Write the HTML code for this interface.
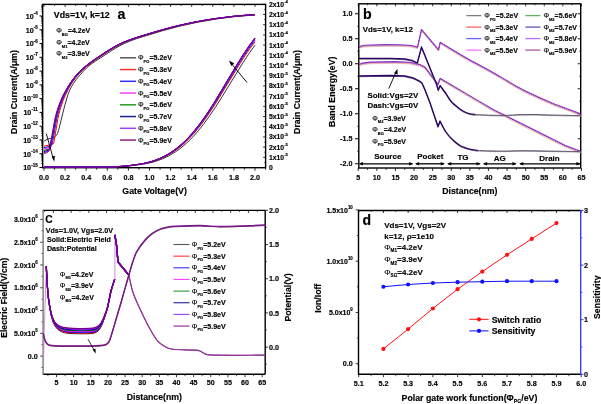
<!DOCTYPE html>
<html><head><meta charset="utf-8"><style>
html,body{margin:0;padding:0;background:#fff;}
svg{display:block;filter:blur(0.25px);}
text{font-family:"Liberation Sans",sans-serif;font-weight:bold;stroke:#000;stroke-width:0.15px;}
</style></head><body>
<svg width="601" height="404" viewBox="0 0 601 404">
<rect width="601" height="404" fill="#fff"/>
<line x1="44" y1="167.7" x2="44" y2="170.7" stroke="#000" stroke-width="0.8" />
<line x1="44" y1="4.4" x2="44" y2="6.9" stroke="#000" stroke-width="0.8" />
<text x="44" y="179.5" font-size="7.2" text-anchor="middle" fill="#000" >0.0</text>
<line x1="54.55" y1="167.7" x2="54.55" y2="169.7" stroke="#000" stroke-width="0.8" />
<line x1="54.55" y1="4.4" x2="54.55" y2="5.9" stroke="#000" stroke-width="0.8" />
<line x1="65.1" y1="167.7" x2="65.1" y2="170.7" stroke="#000" stroke-width="0.8" />
<line x1="65.1" y1="4.4" x2="65.1" y2="6.9" stroke="#000" stroke-width="0.8" />
<text x="65.1" y="179.5" font-size="7.2" text-anchor="middle" fill="#000" >0.2</text>
<line x1="75.65" y1="167.7" x2="75.65" y2="169.7" stroke="#000" stroke-width="0.8" />
<line x1="75.65" y1="4.4" x2="75.65" y2="5.9" stroke="#000" stroke-width="0.8" />
<line x1="86.2" y1="167.7" x2="86.2" y2="170.7" stroke="#000" stroke-width="0.8" />
<line x1="86.2" y1="4.4" x2="86.2" y2="6.9" stroke="#000" stroke-width="0.8" />
<text x="86.2" y="179.5" font-size="7.2" text-anchor="middle" fill="#000" >0.4</text>
<line x1="96.75" y1="167.7" x2="96.75" y2="169.7" stroke="#000" stroke-width="0.8" />
<line x1="96.75" y1="4.4" x2="96.75" y2="5.9" stroke="#000" stroke-width="0.8" />
<line x1="107.3" y1="167.7" x2="107.3" y2="170.7" stroke="#000" stroke-width="0.8" />
<line x1="107.3" y1="4.4" x2="107.3" y2="6.9" stroke="#000" stroke-width="0.8" />
<text x="107.3" y="179.5" font-size="7.2" text-anchor="middle" fill="#000" >0.6</text>
<line x1="117.85" y1="167.7" x2="117.85" y2="169.7" stroke="#000" stroke-width="0.8" />
<line x1="117.85" y1="4.4" x2="117.85" y2="5.9" stroke="#000" stroke-width="0.8" />
<line x1="128.4" y1="167.7" x2="128.4" y2="170.7" stroke="#000" stroke-width="0.8" />
<line x1="128.4" y1="4.4" x2="128.4" y2="6.9" stroke="#000" stroke-width="0.8" />
<text x="128.4" y="179.5" font-size="7.2" text-anchor="middle" fill="#000" >0.8</text>
<line x1="138.95" y1="167.7" x2="138.95" y2="169.7" stroke="#000" stroke-width="0.8" />
<line x1="138.95" y1="4.4" x2="138.95" y2="5.9" stroke="#000" stroke-width="0.8" />
<line x1="149.5" y1="167.7" x2="149.5" y2="170.7" stroke="#000" stroke-width="0.8" />
<line x1="149.5" y1="4.4" x2="149.5" y2="6.9" stroke="#000" stroke-width="0.8" />
<text x="149.5" y="179.5" font-size="7.2" text-anchor="middle" fill="#000" >1.0</text>
<line x1="160.05" y1="167.7" x2="160.05" y2="169.7" stroke="#000" stroke-width="0.8" />
<line x1="160.05" y1="4.4" x2="160.05" y2="5.9" stroke="#000" stroke-width="0.8" />
<line x1="170.6" y1="167.7" x2="170.6" y2="170.7" stroke="#000" stroke-width="0.8" />
<line x1="170.6" y1="4.4" x2="170.6" y2="6.9" stroke="#000" stroke-width="0.8" />
<text x="170.6" y="179.5" font-size="7.2" text-anchor="middle" fill="#000" >1.2</text>
<line x1="181.15" y1="167.7" x2="181.15" y2="169.7" stroke="#000" stroke-width="0.8" />
<line x1="181.15" y1="4.4" x2="181.15" y2="5.9" stroke="#000" stroke-width="0.8" />
<line x1="191.7" y1="167.7" x2="191.7" y2="170.7" stroke="#000" stroke-width="0.8" />
<line x1="191.7" y1="4.4" x2="191.7" y2="6.9" stroke="#000" stroke-width="0.8" />
<text x="191.7" y="179.5" font-size="7.2" text-anchor="middle" fill="#000" >1.4</text>
<line x1="202.25" y1="167.7" x2="202.25" y2="169.7" stroke="#000" stroke-width="0.8" />
<line x1="202.25" y1="4.4" x2="202.25" y2="5.9" stroke="#000" stroke-width="0.8" />
<line x1="212.8" y1="167.7" x2="212.8" y2="170.7" stroke="#000" stroke-width="0.8" />
<line x1="212.8" y1="4.4" x2="212.8" y2="6.9" stroke="#000" stroke-width="0.8" />
<text x="212.8" y="179.5" font-size="7.2" text-anchor="middle" fill="#000" >1.6</text>
<line x1="223.35" y1="167.7" x2="223.35" y2="169.7" stroke="#000" stroke-width="0.8" />
<line x1="223.35" y1="4.4" x2="223.35" y2="5.9" stroke="#000" stroke-width="0.8" />
<line x1="233.9" y1="167.7" x2="233.9" y2="170.7" stroke="#000" stroke-width="0.8" />
<line x1="233.9" y1="4.4" x2="233.9" y2="6.9" stroke="#000" stroke-width="0.8" />
<text x="233.9" y="179.5" font-size="7.2" text-anchor="middle" fill="#000" >1.8</text>
<line x1="244.45" y1="167.7" x2="244.45" y2="169.7" stroke="#000" stroke-width="0.8" />
<line x1="244.45" y1="4.4" x2="244.45" y2="5.9" stroke="#000" stroke-width="0.8" />
<line x1="255" y1="167.7" x2="255" y2="170.7" stroke="#000" stroke-width="0.8" />
<line x1="255" y1="4.4" x2="255" y2="6.9" stroke="#000" stroke-width="0.8" />
<text x="255" y="179.5" font-size="7.2" text-anchor="middle" fill="#000" >2.0</text>
<line x1="265.55" y1="167.7" x2="265.55" y2="169.7" stroke="#000" stroke-width="0.8" />
<line x1="265.55" y1="4.4" x2="265.55" y2="5.9" stroke="#000" stroke-width="0.8" />
<line x1="39.5" y1="16" x2="42.7" y2="16" stroke="#000" stroke-width="1.0" />
<text x="37.7" y="18.8" font-size="7.2" text-anchor="end">10<tspan font-size="4.54" dy="-3.74">-4</tspan></text>
<line x1="41.1" y1="11.85" x2="42.7" y2="11.85" stroke="#000" stroke-width="0.7" />
<line x1="41.1" y1="9.43" x2="42.7" y2="9.43" stroke="#000" stroke-width="0.7" />
<line x1="41.1" y1="7.71" x2="42.7" y2="7.71" stroke="#000" stroke-width="0.7" />
<line x1="41.1" y1="6.38" x2="42.7" y2="6.38" stroke="#000" stroke-width="0.7" />
<line x1="41.1" y1="5.28" x2="42.7" y2="5.28" stroke="#000" stroke-width="0.7" />
<line x1="39.5" y1="29.77" x2="42.7" y2="29.77" stroke="#000" stroke-width="1.0" />
<text x="37.7" y="32.57" font-size="7.2" text-anchor="end">10<tspan font-size="4.54" dy="-3.74">-5</tspan></text>
<line x1="41.1" y1="25.62" x2="42.7" y2="25.62" stroke="#000" stroke-width="0.7" />
<line x1="41.1" y1="23.2" x2="42.7" y2="23.2" stroke="#000" stroke-width="0.7" />
<line x1="41.1" y1="21.48" x2="42.7" y2="21.48" stroke="#000" stroke-width="0.7" />
<line x1="41.1" y1="20.15" x2="42.7" y2="20.15" stroke="#000" stroke-width="0.7" />
<line x1="41.1" y1="19.05" x2="42.7" y2="19.05" stroke="#000" stroke-width="0.7" />
<line x1="41.1" y1="18.13" x2="42.7" y2="18.13" stroke="#000" stroke-width="0.7" />
<line x1="41.1" y1="17.33" x2="42.7" y2="17.33" stroke="#000" stroke-width="0.7" />
<line x1="41.1" y1="16.63" x2="42.7" y2="16.63" stroke="#000" stroke-width="0.7" />
<line x1="39.5" y1="43.54" x2="42.7" y2="43.54" stroke="#000" stroke-width="1.0" />
<text x="37.7" y="46.34" font-size="7.2" text-anchor="end">10<tspan font-size="4.54" dy="-3.74">-6</tspan></text>
<line x1="41.1" y1="39.39" x2="42.7" y2="39.39" stroke="#000" stroke-width="0.7" />
<line x1="41.1" y1="36.97" x2="42.7" y2="36.97" stroke="#000" stroke-width="0.7" />
<line x1="41.1" y1="35.25" x2="42.7" y2="35.25" stroke="#000" stroke-width="0.7" />
<line x1="41.1" y1="33.92" x2="42.7" y2="33.92" stroke="#000" stroke-width="0.7" />
<line x1="41.1" y1="32.82" x2="42.7" y2="32.82" stroke="#000" stroke-width="0.7" />
<line x1="41.1" y1="31.9" x2="42.7" y2="31.9" stroke="#000" stroke-width="0.7" />
<line x1="41.1" y1="31.1" x2="42.7" y2="31.1" stroke="#000" stroke-width="0.7" />
<line x1="41.1" y1="30.4" x2="42.7" y2="30.4" stroke="#000" stroke-width="0.7" />
<line x1="39.5" y1="57.31" x2="42.7" y2="57.31" stroke="#000" stroke-width="1.0" />
<text x="37.7" y="60.11" font-size="7.2" text-anchor="end">10<tspan font-size="4.54" dy="-3.74">-7</tspan></text>
<line x1="41.1" y1="53.16" x2="42.7" y2="53.16" stroke="#000" stroke-width="0.7" />
<line x1="41.1" y1="50.74" x2="42.7" y2="50.74" stroke="#000" stroke-width="0.7" />
<line x1="41.1" y1="49.02" x2="42.7" y2="49.02" stroke="#000" stroke-width="0.7" />
<line x1="41.1" y1="47.69" x2="42.7" y2="47.69" stroke="#000" stroke-width="0.7" />
<line x1="41.1" y1="46.59" x2="42.7" y2="46.59" stroke="#000" stroke-width="0.7" />
<line x1="41.1" y1="45.67" x2="42.7" y2="45.67" stroke="#000" stroke-width="0.7" />
<line x1="41.1" y1="44.87" x2="42.7" y2="44.87" stroke="#000" stroke-width="0.7" />
<line x1="41.1" y1="44.17" x2="42.7" y2="44.17" stroke="#000" stroke-width="0.7" />
<line x1="39.5" y1="71.08" x2="42.7" y2="71.08" stroke="#000" stroke-width="1.0" />
<text x="37.7" y="73.88" font-size="7.2" text-anchor="end">10<tspan font-size="4.54" dy="-3.74">-8</tspan></text>
<line x1="41.1" y1="66.93" x2="42.7" y2="66.93" stroke="#000" stroke-width="0.7" />
<line x1="41.1" y1="64.51" x2="42.7" y2="64.51" stroke="#000" stroke-width="0.7" />
<line x1="41.1" y1="62.79" x2="42.7" y2="62.79" stroke="#000" stroke-width="0.7" />
<line x1="41.1" y1="61.46" x2="42.7" y2="61.46" stroke="#000" stroke-width="0.7" />
<line x1="41.1" y1="60.36" x2="42.7" y2="60.36" stroke="#000" stroke-width="0.7" />
<line x1="41.1" y1="59.44" x2="42.7" y2="59.44" stroke="#000" stroke-width="0.7" />
<line x1="41.1" y1="58.64" x2="42.7" y2="58.64" stroke="#000" stroke-width="0.7" />
<line x1="41.1" y1="57.94" x2="42.7" y2="57.94" stroke="#000" stroke-width="0.7" />
<line x1="39.5" y1="84.85" x2="42.7" y2="84.85" stroke="#000" stroke-width="1.0" />
<text x="37.7" y="87.65" font-size="7.2" text-anchor="end">10<tspan font-size="4.54" dy="-3.74">-9</tspan></text>
<line x1="41.1" y1="80.7" x2="42.7" y2="80.7" stroke="#000" stroke-width="0.7" />
<line x1="41.1" y1="78.28" x2="42.7" y2="78.28" stroke="#000" stroke-width="0.7" />
<line x1="41.1" y1="76.56" x2="42.7" y2="76.56" stroke="#000" stroke-width="0.7" />
<line x1="41.1" y1="75.23" x2="42.7" y2="75.23" stroke="#000" stroke-width="0.7" />
<line x1="41.1" y1="74.13" x2="42.7" y2="74.13" stroke="#000" stroke-width="0.7" />
<line x1="41.1" y1="73.21" x2="42.7" y2="73.21" stroke="#000" stroke-width="0.7" />
<line x1="41.1" y1="72.41" x2="42.7" y2="72.41" stroke="#000" stroke-width="0.7" />
<line x1="41.1" y1="71.71" x2="42.7" y2="71.71" stroke="#000" stroke-width="0.7" />
<line x1="39.5" y1="98.62" x2="42.7" y2="98.62" stroke="#000" stroke-width="1.0" />
<text x="37.7" y="101.42" font-size="7.2" text-anchor="end">10<tspan font-size="4.54" dy="-3.74">-10</tspan></text>
<line x1="41.1" y1="94.47" x2="42.7" y2="94.47" stroke="#000" stroke-width="0.7" />
<line x1="41.1" y1="92.05" x2="42.7" y2="92.05" stroke="#000" stroke-width="0.7" />
<line x1="41.1" y1="90.33" x2="42.7" y2="90.33" stroke="#000" stroke-width="0.7" />
<line x1="41.1" y1="89" x2="42.7" y2="89" stroke="#000" stroke-width="0.7" />
<line x1="41.1" y1="87.9" x2="42.7" y2="87.9" stroke="#000" stroke-width="0.7" />
<line x1="41.1" y1="86.98" x2="42.7" y2="86.98" stroke="#000" stroke-width="0.7" />
<line x1="41.1" y1="86.18" x2="42.7" y2="86.18" stroke="#000" stroke-width="0.7" />
<line x1="41.1" y1="85.48" x2="42.7" y2="85.48" stroke="#000" stroke-width="0.7" />
<line x1="39.5" y1="112.39" x2="42.7" y2="112.39" stroke="#000" stroke-width="1.0" />
<text x="37.7" y="115.19" font-size="7.2" text-anchor="end">10<tspan font-size="4.54" dy="-3.74">-11</tspan></text>
<line x1="41.1" y1="108.24" x2="42.7" y2="108.24" stroke="#000" stroke-width="0.7" />
<line x1="41.1" y1="105.82" x2="42.7" y2="105.82" stroke="#000" stroke-width="0.7" />
<line x1="41.1" y1="104.1" x2="42.7" y2="104.1" stroke="#000" stroke-width="0.7" />
<line x1="41.1" y1="102.77" x2="42.7" y2="102.77" stroke="#000" stroke-width="0.7" />
<line x1="41.1" y1="101.67" x2="42.7" y2="101.67" stroke="#000" stroke-width="0.7" />
<line x1="41.1" y1="100.75" x2="42.7" y2="100.75" stroke="#000" stroke-width="0.7" />
<line x1="41.1" y1="99.95" x2="42.7" y2="99.95" stroke="#000" stroke-width="0.7" />
<line x1="41.1" y1="99.25" x2="42.7" y2="99.25" stroke="#000" stroke-width="0.7" />
<line x1="39.5" y1="126.16" x2="42.7" y2="126.16" stroke="#000" stroke-width="1.0" />
<text x="37.7" y="128.96" font-size="7.2" text-anchor="end">10<tspan font-size="4.54" dy="-3.74">-12</tspan></text>
<line x1="41.1" y1="122.01" x2="42.7" y2="122.01" stroke="#000" stroke-width="0.7" />
<line x1="41.1" y1="119.59" x2="42.7" y2="119.59" stroke="#000" stroke-width="0.7" />
<line x1="41.1" y1="117.87" x2="42.7" y2="117.87" stroke="#000" stroke-width="0.7" />
<line x1="41.1" y1="116.54" x2="42.7" y2="116.54" stroke="#000" stroke-width="0.7" />
<line x1="41.1" y1="115.44" x2="42.7" y2="115.44" stroke="#000" stroke-width="0.7" />
<line x1="41.1" y1="114.52" x2="42.7" y2="114.52" stroke="#000" stroke-width="0.7" />
<line x1="41.1" y1="113.72" x2="42.7" y2="113.72" stroke="#000" stroke-width="0.7" />
<line x1="41.1" y1="113.02" x2="42.7" y2="113.02" stroke="#000" stroke-width="0.7" />
<line x1="39.5" y1="139.93" x2="42.7" y2="139.93" stroke="#000" stroke-width="1.0" />
<text x="37.7" y="142.73" font-size="7.2" text-anchor="end">10<tspan font-size="4.54" dy="-3.74">-13</tspan></text>
<line x1="41.1" y1="135.78" x2="42.7" y2="135.78" stroke="#000" stroke-width="0.7" />
<line x1="41.1" y1="133.36" x2="42.7" y2="133.36" stroke="#000" stroke-width="0.7" />
<line x1="41.1" y1="131.64" x2="42.7" y2="131.64" stroke="#000" stroke-width="0.7" />
<line x1="41.1" y1="130.31" x2="42.7" y2="130.31" stroke="#000" stroke-width="0.7" />
<line x1="41.1" y1="129.21" x2="42.7" y2="129.21" stroke="#000" stroke-width="0.7" />
<line x1="41.1" y1="128.29" x2="42.7" y2="128.29" stroke="#000" stroke-width="0.7" />
<line x1="41.1" y1="127.49" x2="42.7" y2="127.49" stroke="#000" stroke-width="0.7" />
<line x1="41.1" y1="126.79" x2="42.7" y2="126.79" stroke="#000" stroke-width="0.7" />
<line x1="39.5" y1="153.7" x2="42.7" y2="153.7" stroke="#000" stroke-width="1.0" />
<text x="37.7" y="156.5" font-size="7.2" text-anchor="end">10<tspan font-size="4.54" dy="-3.74">-14</tspan></text>
<line x1="41.1" y1="149.55" x2="42.7" y2="149.55" stroke="#000" stroke-width="0.7" />
<line x1="41.1" y1="147.13" x2="42.7" y2="147.13" stroke="#000" stroke-width="0.7" />
<line x1="41.1" y1="145.41" x2="42.7" y2="145.41" stroke="#000" stroke-width="0.7" />
<line x1="41.1" y1="144.08" x2="42.7" y2="144.08" stroke="#000" stroke-width="0.7" />
<line x1="41.1" y1="142.98" x2="42.7" y2="142.98" stroke="#000" stroke-width="0.7" />
<line x1="41.1" y1="142.06" x2="42.7" y2="142.06" stroke="#000" stroke-width="0.7" />
<line x1="41.1" y1="141.26" x2="42.7" y2="141.26" stroke="#000" stroke-width="0.7" />
<line x1="41.1" y1="140.56" x2="42.7" y2="140.56" stroke="#000" stroke-width="0.7" />
<line x1="39.5" y1="167.47" x2="42.7" y2="167.47" stroke="#000" stroke-width="1.0" />
<text x="37.7" y="170.27" font-size="7.2" text-anchor="end">10<tspan font-size="4.54" dy="-3.74">-15</tspan></text>
<line x1="41.1" y1="163.32" x2="42.7" y2="163.32" stroke="#000" stroke-width="0.7" />
<line x1="41.1" y1="160.9" x2="42.7" y2="160.9" stroke="#000" stroke-width="0.7" />
<line x1="41.1" y1="159.18" x2="42.7" y2="159.18" stroke="#000" stroke-width="0.7" />
<line x1="41.1" y1="157.85" x2="42.7" y2="157.85" stroke="#000" stroke-width="0.7" />
<line x1="41.1" y1="156.75" x2="42.7" y2="156.75" stroke="#000" stroke-width="0.7" />
<line x1="41.1" y1="155.83" x2="42.7" y2="155.83" stroke="#000" stroke-width="0.7" />
<line x1="41.1" y1="155.03" x2="42.7" y2="155.03" stroke="#000" stroke-width="0.7" />
<line x1="41.1" y1="154.33" x2="42.7" y2="154.33" stroke="#000" stroke-width="0.7" />
<line x1="263.1" y1="167.5" x2="265.6" y2="167.5" stroke="#000" stroke-width="0.8" />
<line x1="264.1" y1="162.4" x2="265.6" y2="162.4" stroke="#000" stroke-width="0.6" />
<text x="269" y="170" font-size="6.8" text-anchor="start" fill="#000" >0</text>
<line x1="263.1" y1="157.3" x2="265.6" y2="157.3" stroke="#000" stroke-width="0.8" />
<line x1="264.1" y1="152.2" x2="265.6" y2="152.2" stroke="#000" stroke-width="0.6" />
<text x="269.0" y="159.8" font-size="6.8">1x10<tspan font-size="4.3" dy="-3.4">-5</tspan></text>
<line x1="263.1" y1="147.1" x2="265.6" y2="147.1" stroke="#000" stroke-width="0.8" />
<line x1="264.1" y1="142" x2="265.6" y2="142" stroke="#000" stroke-width="0.6" />
<text x="269.0" y="149.6" font-size="6.8">2x10<tspan font-size="4.3" dy="-3.4">-5</tspan></text>
<line x1="263.1" y1="136.9" x2="265.6" y2="136.9" stroke="#000" stroke-width="0.8" />
<line x1="264.1" y1="131.8" x2="265.6" y2="131.8" stroke="#000" stroke-width="0.6" />
<text x="269.0" y="139.4" font-size="6.8">3x10<tspan font-size="4.3" dy="-3.4">-5</tspan></text>
<line x1="263.1" y1="126.7" x2="265.6" y2="126.7" stroke="#000" stroke-width="0.8" />
<line x1="264.1" y1="121.6" x2="265.6" y2="121.6" stroke="#000" stroke-width="0.6" />
<text x="269.0" y="129.2" font-size="6.8">4x10<tspan font-size="4.3" dy="-3.4">-5</tspan></text>
<line x1="263.1" y1="116.5" x2="265.6" y2="116.5" stroke="#000" stroke-width="0.8" />
<line x1="264.1" y1="111.4" x2="265.6" y2="111.4" stroke="#000" stroke-width="0.6" />
<text x="269.0" y="119" font-size="6.8">5x10<tspan font-size="4.3" dy="-3.4">-5</tspan></text>
<line x1="263.1" y1="106.3" x2="265.6" y2="106.3" stroke="#000" stroke-width="0.8" />
<line x1="264.1" y1="101.2" x2="265.6" y2="101.2" stroke="#000" stroke-width="0.6" />
<text x="269.0" y="108.8" font-size="6.8">6x10<tspan font-size="4.3" dy="-3.4">-5</tspan></text>
<line x1="263.1" y1="96.1" x2="265.6" y2="96.1" stroke="#000" stroke-width="0.8" />
<line x1="264.1" y1="91" x2="265.6" y2="91" stroke="#000" stroke-width="0.6" />
<text x="269.0" y="98.6" font-size="6.8">7x10<tspan font-size="4.3" dy="-3.4">-5</tspan></text>
<line x1="263.1" y1="85.9" x2="265.6" y2="85.9" stroke="#000" stroke-width="0.8" />
<line x1="264.1" y1="80.8" x2="265.6" y2="80.8" stroke="#000" stroke-width="0.6" />
<text x="269.0" y="88.4" font-size="6.8">8x10<tspan font-size="4.3" dy="-3.4">-5</tspan></text>
<line x1="263.1" y1="75.7" x2="265.6" y2="75.7" stroke="#000" stroke-width="0.8" />
<line x1="264.1" y1="70.6" x2="265.6" y2="70.6" stroke="#000" stroke-width="0.6" />
<text x="269.0" y="78.2" font-size="6.8">9x10<tspan font-size="4.3" dy="-3.4">-5</tspan></text>
<line x1="263.1" y1="65.5" x2="265.6" y2="65.5" stroke="#000" stroke-width="0.8" />
<line x1="264.1" y1="60.4" x2="265.6" y2="60.4" stroke="#000" stroke-width="0.6" />
<text x="269.0" y="68" font-size="6.8">1x10<tspan font-size="4.3" dy="-3.4">-4</tspan></text>
<line x1="263.1" y1="55.3" x2="265.6" y2="55.3" stroke="#000" stroke-width="0.8" />
<line x1="264.1" y1="50.2" x2="265.6" y2="50.2" stroke="#000" stroke-width="0.6" />
<text x="269.0" y="57.8" font-size="6.8">1x10<tspan font-size="4.3" dy="-3.4">-4</tspan></text>
<line x1="263.1" y1="45.1" x2="265.6" y2="45.1" stroke="#000" stroke-width="0.8" />
<line x1="264.1" y1="40" x2="265.6" y2="40" stroke="#000" stroke-width="0.6" />
<text x="269.0" y="47.6" font-size="6.8">1x10<tspan font-size="4.3" dy="-3.4">-4</tspan></text>
<line x1="263.1" y1="34.9" x2="265.6" y2="34.9" stroke="#000" stroke-width="0.8" />
<line x1="264.1" y1="29.8" x2="265.6" y2="29.8" stroke="#000" stroke-width="0.6" />
<text x="269.0" y="37.4" font-size="6.8">1x10<tspan font-size="4.3" dy="-3.4">-4</tspan></text>
<line x1="263.1" y1="24.7" x2="265.6" y2="24.7" stroke="#000" stroke-width="0.8" />
<line x1="264.1" y1="19.6" x2="265.6" y2="19.6" stroke="#000" stroke-width="0.6" />
<text x="269.0" y="27.2" font-size="6.8">1x10<tspan font-size="4.3" dy="-3.4">-4</tspan></text>
<line x1="263.1" y1="14.5" x2="265.6" y2="14.5" stroke="#000" stroke-width="0.8" />
<line x1="264.1" y1="9.4" x2="265.6" y2="9.4" stroke="#000" stroke-width="0.6" />
<text x="269.0" y="17" font-size="6.8">2x10<tspan font-size="4.3" dy="-3.4">-4</tspan></text>
<line x1="263.1" y1="4.3" x2="265.6" y2="4.3" stroke="#000" stroke-width="0.8" />
<text x="269.0" y="6.8" font-size="6.8">2x10<tspan font-size="4.3" dy="-3.4">-4</tspan></text>
<rect x="42.7" y="4.4" width="222.9" height="163.3" fill="none" stroke="#000" stroke-width="1.4"/>
<text x="154.6" y="193.9" font-size="8.75" text-anchor="middle" fill="#000" >Gate Voltage(V)</text>
<text x="17.3" y="92" font-size="8.72" text-anchor="middle" fill="#000" transform="rotate(-90 17.3 92)" >Drain Current(A/&#956;m)</text>
<text x="300.4" y="92" font-size="8.72" text-anchor="middle" fill="#000" transform="rotate(-90 300.4 92)" >Drain Current(A/&#956;m)</text>
<text x="53.8" y="18.2" font-size="8.8" text-anchor="start" fill="#000" >Vds=1V, k=12</text>
<text x="117.6" y="19" font-size="14.2" text-anchor="start" fill="#000" >a</text>
<text x="56.2" y="33" font-size="7.0" ><tspan font-weight="normal">&#934;</tspan><tspan font-size="4.06" dy="2.52">BG</tspan><tspan dy="-2.52">=4.2eV</tspan></text>
<text x="56.2" y="45" font-size="7.0" ><tspan font-weight="normal">&#934;</tspan><tspan font-size="4.06" dy="2.52">M1</tspan><tspan dy="-2.52">=4.2eV</tspan></text>
<text x="56.2" y="56.4" font-size="7.0" ><tspan font-weight="normal">&#934;</tspan><tspan font-size="4.06" dy="2.52">M2</tspan><tspan dy="-2.52">=3.9eV</tspan></text>
<line x1="120" y1="57.8" x2="136" y2="57.8" stroke="#555555" stroke-width="1.5" />
<text x="138" y="60.3" font-size="7.0" ><tspan font-weight="normal">&#934;</tspan><tspan font-size="4.06" dy="2.52">PG</tspan><tspan dy="-2.52">=5.2eV</tspan></text>
<line x1="120" y1="69.55" x2="136" y2="69.55" stroke="#ff3030" stroke-width="1.5" />
<text x="138" y="72.05" font-size="7.0" ><tspan font-weight="normal">&#934;</tspan><tspan font-size="4.06" dy="2.52">PG</tspan><tspan dy="-2.52">=5.3eV</tspan></text>
<line x1="120" y1="81.3" x2="136" y2="81.3" stroke="#3030ff" stroke-width="1.5" />
<text x="138" y="83.8" font-size="7.0" ><tspan font-weight="normal">&#934;</tspan><tspan font-size="4.06" dy="2.52">PG</tspan><tspan dy="-2.52">=5.4eV</tspan></text>
<line x1="120" y1="93.05" x2="136" y2="93.05" stroke="#ff40ff" stroke-width="1.5" />
<text x="138" y="95.55" font-size="7.0" ><tspan font-weight="normal">&#934;</tspan><tspan font-size="4.06" dy="2.52">PG</tspan><tspan dy="-2.52">=5.5eV</tspan></text>
<line x1="120" y1="104.8" x2="136" y2="104.8" stroke="#2a9a2a" stroke-width="1.5" />
<text x="138" y="107.3" font-size="7.0" ><tspan font-weight="normal">&#934;</tspan><tspan font-size="4.06" dy="2.52">PG</tspan><tspan dy="-2.52">=5.6eV</tspan></text>
<line x1="120" y1="116.55" x2="136" y2="116.55" stroke="#202090" stroke-width="1.5" />
<text x="138" y="119.05" font-size="7.0" ><tspan font-weight="normal">&#934;</tspan><tspan font-size="4.06" dy="2.52">PG</tspan><tspan dy="-2.52">=5.7eV</tspan></text>
<line x1="120" y1="128.3" x2="136" y2="128.3" stroke="#9a40ff" stroke-width="1.5" />
<text x="138" y="130.8" font-size="7.0" ><tspan font-weight="normal">&#934;</tspan><tspan font-size="4.06" dy="2.52">PG</tspan><tspan dy="-2.52">=5.8eV</tspan></text>
<line x1="120" y1="140.05" x2="136" y2="140.05" stroke="#8a208a" stroke-width="1.5" />
<text x="138" y="142.55" font-size="7.0" ><tspan font-weight="normal">&#934;</tspan><tspan font-size="4.06" dy="2.52">PG</tspan><tspan dy="-2.52">=5.9eV</tspan></text>
<path d="M44,141.17 L47.38,139.2 L52.44,137.86 L54.13,137.13 L55.82,135.89 L57.5,133.54 L58.56,130.58 L64.68,105.74 L68.05,94.25 L69.53,90.54 L71.22,87.16 L73.54,83.35 L76.28,79.49 L79.24,75.86 L83.46,71.14 L86.83,67.75 L89.79,65.16 L94.01,62.07 L114.69,48.64 L119.75,45.77 L124.81,43.27 L130.3,40.93 L136.21,38.75 L162.79,30.65 L180.52,25.97 L198.24,22.12 L217.23,18.88 L236.22,16.49 L255,14.92" fill="none" stroke="#000000" stroke-width="0.8" stroke-linejoin="round" />
<path d="M44,167 L115.95,167 L128.61,166.09 L142.54,164.3 L148.02,163.29 L153.09,162.07 L157.73,160.64 L162.37,158.88 L167.01,156.75 L171.23,154.49 L175.45,151.87 L179.25,149.19 L183.05,146.2 L186.85,142.87 L190.65,139.2 L194.44,135.19 L198.24,130.83 L203.31,124.51 L209.64,115.82 L215.97,106.4 L222.3,96.39 L242.55,63.33 L248.88,53.71 L255,45.24" fill="none" stroke="#000000" stroke-width="0.8" stroke-linejoin="round" />
<path d="M44,146.26 L52.44,144.06 L53.71,143.49 L57.93,118.54 L59.19,113.06 L60.67,107.81 L63.2,100.43 L65.31,95.26 L69.95,86.19 L72.7,81.89 L75.86,77.62 L79.24,73.66 L82.61,70.22 L86.41,66.82 L91.05,63.13 L96.12,59.45 L110.47,50 L115.95,46.75 L121.02,44.11 L126.5,41.66 L132.83,39.23 L140.43,36.74 L159.84,30.92 L177.56,26.18 L196.55,22.04 L215.54,18.8 L234.53,16.42 L255,14.75" fill="none" stroke="#ff0000" stroke-width="1.0" stroke-linejoin="round" />
<path d="M44,167 L113.84,167 L127.77,165.98 L141.69,164.11 L147.18,163.03 L151.82,161.86 L156.46,160.38 L161.11,158.55 L165.75,156.36 L169.97,154.03 L175.03,150.76 L178.83,147.94 L182.63,144.79 L186.43,141.31 L194.02,133.3 L201.62,123.93 L207.95,115.15 L215.54,103.64 L237.07,68.27 L243.4,58.2 L249.73,48.83 L255,41.77" fill="none" stroke="#ff0000" stroke-width="1.0" stroke-linejoin="round" />
<path d="M44,147.78 L51.6,145.6 L52.02,144.58 L53.28,138.07 L56.66,118.67 L59.19,109 L61.72,101.74 L64.05,96.11 L68.27,88.05 L71.22,83.14 L74.38,78.7 L77.76,74.6 L81.14,71.04 L84.93,67.54 L89.58,63.77 L94.64,60.04 L108.99,50.53 L114.9,46.98 L119.96,44.32 L125.45,41.83 L131.35,39.53 L138.95,37 L157.94,31.29 L175.66,26.48 L194.65,22.26 L204.78,20.39 L214.91,18.77 L235.17,16.26 L255,14.67" fill="none" stroke="#0000ff" stroke-width="1.0" stroke-linejoin="round" />
<path d="M44,167 L113.21,167 L127.98,165.89 L141.48,164.04 L146.97,162.94 L151.61,161.73 L156.25,160.22 L160.89,158.36 L165.54,156.13 L169.76,153.76 L174.4,150.73 L178.2,147.9 L181.99,144.74 L185.79,141.24 L189.59,137.39 L193.39,133.2 L200.98,123.78 L207.31,114.95 L214.91,103.36 L236.43,67.7 L242.76,57.52 L249.09,48.04 L255,40.09" fill="none" stroke="#0000ff" stroke-width="1.0" stroke-linejoin="round" />
<path d="M44,149.16 L50.75,147.13 L51.17,146.26 L53.92,131.78 L56.03,119.34 L58.56,109.5 L61.09,102.2 L63.62,96.06 L67.42,88.82 L70.38,83.78 L73.54,79.26 L76.92,75.08 L80.29,71.46 L84.09,67.91 L88.31,64.43 L93.37,60.64 L107.3,51.33 L113.21,47.71 L118.69,44.74 L124.18,42.19 L130.51,39.68 L138.53,37 L157.52,31.29 L175.24,26.47 L194.23,22.25 L204.36,20.38 L214.49,18.76 L234.74,16.23 L255,14.62" fill="none" stroke="#ff00ff" stroke-width="1.0" stroke-linejoin="round" />
<path d="M44,167 L112.79,167 L127.56,165.89 L141.06,164.04 L146.55,162.94 L151.19,161.73 L155.83,160.22 L160.47,158.36 L165.11,156.13 L169.33,153.75 L173.98,150.71 L177.77,147.88 L181.57,144.71 L185.37,141.2 L189.17,137.34 L192.97,133.13 L200.56,123.68 L206.89,114.81 L214.49,103.18 L236.01,67.32 L243.61,55.1 L249.94,45.72 L255,38.96" fill="none" stroke="#ff00ff" stroke-width="1.0" stroke-linejoin="round" />
<path d="M44,150.53 L49.91,148.68 L50.33,148.34 L53.28,132.93 L55.61,119.49 L58.14,109.7 L60.67,102.45 L63.2,96.34 L67,89.15 L69.95,84.12 L72.91,79.82 L76.28,75.57 L79.66,71.89 L83.46,68.28 L87.68,64.76 L92.74,60.95 L106.25,51.87 L112.58,47.95 L117.64,45.16 L123.13,42.56 L129.46,40 L137.47,37.26 L155.62,31.79 L173.77,26.79 L192.76,22.5 L202.88,20.59 L213.01,18.94 L233.27,16.35 L244.66,15.3 L255,14.59" fill="none" stroke="#008000" stroke-width="1.0" stroke-linejoin="round" />
<path d="M44,167 L112.58,167 L127.35,165.89 L140.85,164.04 L146.34,162.94 L150.98,161.73 L155.62,160.22 L160.26,158.36 L164.9,156.12 L169.12,153.74 L173.77,150.7 L177.56,147.86 L181.36,144.69 L185.16,141.18 L188.96,137.32 L192.76,133.1 L200.35,123.63 L206.68,114.75 L214.28,103.09 L235.8,67.13 L243.4,54.87 L249.73,45.45 L255,38.4" fill="none" stroke="#008000" stroke-width="1.0" stroke-linejoin="round" />
<path d="M44,151.63 L49.49,149.84 L49.91,148.8 L52.65,134.65 L55.18,120.09 L57.5,110.84 L59.61,104.54 L62.57,97.17 L64.05,94.13 L69.11,85.14 L72.06,80.7 L75.23,76.58 L78.6,72.76 L82.4,69.04 L86.62,65.43 L91.69,61.56 L104.77,52.69 L111.1,48.71 L116.58,45.6 L122.07,42.93 L128.4,40.31 L134.31,38.22 L141.06,36.1 L160.05,30.42 L172.29,27.11 L182.42,24.67 L192.54,22.5 L202.67,20.59 L212.8,18.94 L233.06,16.35 L244.45,15.3 L255,14.58" fill="none" stroke="#000080" stroke-width="1.0" stroke-linejoin="round" />
<path d="M44,167 L112.36,167 L127.56,165.84 L141.06,163.96 L146.55,162.84 L151.19,161.61 L155.83,160.06 L160.47,158.17 L165.11,155.9 L169.33,153.48 L173.55,150.7 L177.35,147.86 L181.15,144.69 L184.95,141.18 L188.75,137.32 L192.54,133.1 L200.14,123.63 L206.47,114.75 L214.07,103.09 L235.59,67.13 L243.18,54.87 L249.51,45.45 L255,38.13" fill="none" stroke="#000080" stroke-width="1.0" stroke-linejoin="round" />
<path d="M44,152.6 L48.64,151.02 L49.06,150.79 L49.28,150.26 L49.91,147.85 L51.6,139.19 L55.18,119.08 L57.29,110.91 L59.4,104.64 L62.36,97.29 L63.83,94.26 L68.27,86.34 L71.22,81.74 L74.38,77.49 L77.76,73.55 L81.56,69.72 L85.78,66.03 L90.84,62.1 L103.5,53.45 L110.25,49.15 L115.74,45.99 L121.65,43.08 L127.56,40.6 L133.04,38.61 L139.79,36.45 L159.21,30.64 L171.02,27.4 L181.15,24.93 L191.28,22.73 L201.41,20.8 L211.53,19.12 L221.66,17.68 L233.06,16.34 L244.45,15.3 L255,14.57" fill="none" stroke="#8000ff" stroke-width="1.0" stroke-linejoin="round" />
<path d="M44,167 L112.36,167 L127.13,165.88 L140.64,164.02 L146.12,162.91 L150.77,161.7 L155.41,160.18 L160.05,158.31 L164.69,156.07 L168.91,153.68 L173.55,150.63 L177.35,147.78 L181.15,144.6 L184.95,141.08 L188.75,137.2 L192.54,132.98 L200.14,123.49 L206.47,114.59 L214.07,102.92 L235.59,66.95 L243.18,54.7 L249.51,45.31 L255,38" fill="none" stroke="#8000ff" stroke-width="1.0" stroke-linejoin="round" />
<path d="M44,153.42 L46.53,152.74 L47.8,152.2 L48.43,151.47 L49.06,149.96 L51.39,138.63 L54.76,119.63 L56.66,112.1 L58.56,106.24 L61.51,98.72 L63.41,94.69 L67,88.25 L70.16,83.14 L73.33,78.7 L76.71,74.6 L80.5,70.63 L84.72,66.82 L89.37,63.13 L94.43,59.45 L101.18,54.9 L108.78,50 L114.69,46.51 L120.59,43.51 L126.5,40.97 L132.41,38.79 L138.74,36.74 L158.15,30.91 L169.12,27.87 L179.67,25.25 L189.8,23.02 L199.93,21.05 L211.32,19.13 L221.45,17.69 L232.85,16.35 L244.24,15.3 L255,14.57" fill="none" stroke="#800080" stroke-width="1.0" stroke-linejoin="round" />
<path d="M44,167 L112.15,167 L127.35,165.84 L140.85,163.96 L146.34,162.84 L150.98,161.61 L155.62,160.06 L160.26,158.17 L164.9,155.9 L169.12,153.48 L173.34,150.7 L177.14,147.86 L180.94,144.69 L184.74,141.18 L188.54,137.32 L192.33,133.1 L199.93,123.63 L206.26,114.75 L213.86,103.09 L235.38,67.13 L242.97,54.87 L249.3,45.45 L255,37.87" fill="none" stroke="#800080" stroke-width="1.0" stroke-linejoin="round" />
<line x1="46.3" y1="133.7" x2="53.2" y2="158.5" stroke="#000" stroke-width="0.9"/>
<path d="M54.3,161.8 L51.6,156.6 L54.9,155.7 Z" fill="#000"/>
<line x1="247" y1="82.5" x2="231" y2="63" stroke="#000" stroke-width="0.9"/>
<path d="M229,60.5 L234.2,63.4 L231.3,65.9 Z" fill="#000"/>
<line x1="358.25" y1="168" x2="358.25" y2="171" stroke="#000" stroke-width="0.8" />
<line x1="358.25" y1="3.8" x2="358.25" y2="6.3" stroke="#000" stroke-width="0.8" />
<text x="358.25" y="179.5" font-size="7.2" text-anchor="middle" fill="#000" >5</text>
<line x1="367.55" y1="168" x2="367.55" y2="170" stroke="#000" stroke-width="0.7" />
<line x1="367.55" y1="3.8" x2="367.55" y2="5.3" stroke="#000" stroke-width="0.7" />
<line x1="376.85" y1="168" x2="376.85" y2="171" stroke="#000" stroke-width="0.8" />
<line x1="376.85" y1="3.8" x2="376.85" y2="6.3" stroke="#000" stroke-width="0.8" />
<text x="376.85" y="179.5" font-size="7.2" text-anchor="middle" fill="#000" >10</text>
<line x1="386.15" y1="168" x2="386.15" y2="170" stroke="#000" stroke-width="0.7" />
<line x1="386.15" y1="3.8" x2="386.15" y2="5.3" stroke="#000" stroke-width="0.7" />
<line x1="395.45" y1="168" x2="395.45" y2="171" stroke="#000" stroke-width="0.8" />
<line x1="395.45" y1="3.8" x2="395.45" y2="6.3" stroke="#000" stroke-width="0.8" />
<text x="395.45" y="179.5" font-size="7.2" text-anchor="middle" fill="#000" >15</text>
<line x1="404.75" y1="168" x2="404.75" y2="170" stroke="#000" stroke-width="0.7" />
<line x1="404.75" y1="3.8" x2="404.75" y2="5.3" stroke="#000" stroke-width="0.7" />
<line x1="414.05" y1="168" x2="414.05" y2="171" stroke="#000" stroke-width="0.8" />
<line x1="414.05" y1="3.8" x2="414.05" y2="6.3" stroke="#000" stroke-width="0.8" />
<text x="414.05" y="179.5" font-size="7.2" text-anchor="middle" fill="#000" >20</text>
<line x1="423.35" y1="168" x2="423.35" y2="170" stroke="#000" stroke-width="0.7" />
<line x1="423.35" y1="3.8" x2="423.35" y2="5.3" stroke="#000" stroke-width="0.7" />
<line x1="432.65" y1="168" x2="432.65" y2="171" stroke="#000" stroke-width="0.8" />
<line x1="432.65" y1="3.8" x2="432.65" y2="6.3" stroke="#000" stroke-width="0.8" />
<text x="432.65" y="179.5" font-size="7.2" text-anchor="middle" fill="#000" >25</text>
<line x1="441.95" y1="168" x2="441.95" y2="170" stroke="#000" stroke-width="0.7" />
<line x1="441.95" y1="3.8" x2="441.95" y2="5.3" stroke="#000" stroke-width="0.7" />
<line x1="451.25" y1="168" x2="451.25" y2="171" stroke="#000" stroke-width="0.8" />
<line x1="451.25" y1="3.8" x2="451.25" y2="6.3" stroke="#000" stroke-width="0.8" />
<text x="451.25" y="179.5" font-size="7.2" text-anchor="middle" fill="#000" >30</text>
<line x1="460.55" y1="168" x2="460.55" y2="170" stroke="#000" stroke-width="0.7" />
<line x1="460.55" y1="3.8" x2="460.55" y2="5.3" stroke="#000" stroke-width="0.7" />
<line x1="469.85" y1="168" x2="469.85" y2="171" stroke="#000" stroke-width="0.8" />
<line x1="469.85" y1="3.8" x2="469.85" y2="6.3" stroke="#000" stroke-width="0.8" />
<text x="469.85" y="179.5" font-size="7.2" text-anchor="middle" fill="#000" >35</text>
<line x1="479.15" y1="168" x2="479.15" y2="170" stroke="#000" stroke-width="0.7" />
<line x1="479.15" y1="3.8" x2="479.15" y2="5.3" stroke="#000" stroke-width="0.7" />
<line x1="488.45" y1="168" x2="488.45" y2="171" stroke="#000" stroke-width="0.8" />
<line x1="488.45" y1="3.8" x2="488.45" y2="6.3" stroke="#000" stroke-width="0.8" />
<text x="488.45" y="179.5" font-size="7.2" text-anchor="middle" fill="#000" >40</text>
<line x1="497.75" y1="168" x2="497.75" y2="170" stroke="#000" stroke-width="0.7" />
<line x1="497.75" y1="3.8" x2="497.75" y2="5.3" stroke="#000" stroke-width="0.7" />
<line x1="507.05" y1="168" x2="507.05" y2="171" stroke="#000" stroke-width="0.8" />
<line x1="507.05" y1="3.8" x2="507.05" y2="6.3" stroke="#000" stroke-width="0.8" />
<text x="507.05" y="179.5" font-size="7.2" text-anchor="middle" fill="#000" >45</text>
<line x1="516.35" y1="168" x2="516.35" y2="170" stroke="#000" stroke-width="0.7" />
<line x1="516.35" y1="3.8" x2="516.35" y2="5.3" stroke="#000" stroke-width="0.7" />
<line x1="525.65" y1="168" x2="525.65" y2="171" stroke="#000" stroke-width="0.8" />
<line x1="525.65" y1="3.8" x2="525.65" y2="6.3" stroke="#000" stroke-width="0.8" />
<text x="525.65" y="179.5" font-size="7.2" text-anchor="middle" fill="#000" >50</text>
<line x1="534.95" y1="168" x2="534.95" y2="170" stroke="#000" stroke-width="0.7" />
<line x1="534.95" y1="3.8" x2="534.95" y2="5.3" stroke="#000" stroke-width="0.7" />
<line x1="544.25" y1="168" x2="544.25" y2="171" stroke="#000" stroke-width="0.8" />
<line x1="544.25" y1="3.8" x2="544.25" y2="6.3" stroke="#000" stroke-width="0.8" />
<text x="544.25" y="179.5" font-size="7.2" text-anchor="middle" fill="#000" >55</text>
<line x1="553.55" y1="168" x2="553.55" y2="170" stroke="#000" stroke-width="0.7" />
<line x1="553.55" y1="3.8" x2="553.55" y2="5.3" stroke="#000" stroke-width="0.7" />
<line x1="562.85" y1="168" x2="562.85" y2="171" stroke="#000" stroke-width="0.8" />
<line x1="562.85" y1="3.8" x2="562.85" y2="6.3" stroke="#000" stroke-width="0.8" />
<text x="562.85" y="179.5" font-size="7.2" text-anchor="middle" fill="#000" >60</text>
<line x1="572.15" y1="168" x2="572.15" y2="170" stroke="#000" stroke-width="0.7" />
<line x1="572.15" y1="3.8" x2="572.15" y2="5.3" stroke="#000" stroke-width="0.7" />
<line x1="581.45" y1="168" x2="581.45" y2="171" stroke="#000" stroke-width="0.8" />
<line x1="581.45" y1="3.8" x2="581.45" y2="6.3" stroke="#000" stroke-width="0.8" />
<text x="581.45" y="179.5" font-size="7.2" text-anchor="middle" fill="#000" >65</text>
<line x1="355" y1="163.75" x2="358.8" y2="163.75" stroke="#000" stroke-width="1.0" />
<line x1="580.7" y1="163.75" x2="577.7" y2="163.75" stroke="#000" stroke-width="0.9" />
<text x="352.4" y="166.35" font-size="7.2" text-anchor="end" fill="#000" >-2.0</text>
<line x1="357.2" y1="151.25" x2="358.8" y2="151.25" stroke="#000" stroke-width="0.7" />
<line x1="580.7" y1="151.25" x2="579.2" y2="151.25" stroke="#000" stroke-width="0.7" />
<line x1="355" y1="138.75" x2="358.8" y2="138.75" stroke="#000" stroke-width="1.0" />
<line x1="580.7" y1="138.75" x2="577.7" y2="138.75" stroke="#000" stroke-width="0.9" />
<text x="352.4" y="141.35" font-size="7.2" text-anchor="end" fill="#000" >-1.5</text>
<line x1="357.2" y1="126.25" x2="358.8" y2="126.25" stroke="#000" stroke-width="0.7" />
<line x1="580.7" y1="126.25" x2="579.2" y2="126.25" stroke="#000" stroke-width="0.7" />
<line x1="355" y1="113.75" x2="358.8" y2="113.75" stroke="#000" stroke-width="1.0" />
<line x1="580.7" y1="113.75" x2="577.7" y2="113.75" stroke="#000" stroke-width="0.9" />
<text x="352.4" y="116.35" font-size="7.2" text-anchor="end" fill="#000" >-1.0</text>
<line x1="357.2" y1="101.25" x2="358.8" y2="101.25" stroke="#000" stroke-width="0.7" />
<line x1="580.7" y1="101.25" x2="579.2" y2="101.25" stroke="#000" stroke-width="0.7" />
<line x1="355" y1="88.75" x2="358.8" y2="88.75" stroke="#000" stroke-width="1.0" />
<line x1="580.7" y1="88.75" x2="577.7" y2="88.75" stroke="#000" stroke-width="0.9" />
<text x="352.4" y="91.35" font-size="7.2" text-anchor="end" fill="#000" >-0.5</text>
<line x1="357.2" y1="76.25" x2="358.8" y2="76.25" stroke="#000" stroke-width="0.7" />
<line x1="580.7" y1="76.25" x2="579.2" y2="76.25" stroke="#000" stroke-width="0.7" />
<line x1="355" y1="63.75" x2="358.8" y2="63.75" stroke="#000" stroke-width="1.0" />
<line x1="580.7" y1="63.75" x2="577.7" y2="63.75" stroke="#000" stroke-width="0.9" />
<text x="352.4" y="66.35" font-size="7.2" text-anchor="end" fill="#000" >0.0</text>
<line x1="357.2" y1="51.25" x2="358.8" y2="51.25" stroke="#000" stroke-width="0.7" />
<line x1="580.7" y1="51.25" x2="579.2" y2="51.25" stroke="#000" stroke-width="0.7" />
<line x1="355" y1="38.75" x2="358.8" y2="38.75" stroke="#000" stroke-width="1.0" />
<line x1="580.7" y1="38.75" x2="577.7" y2="38.75" stroke="#000" stroke-width="0.9" />
<text x="352.4" y="41.35" font-size="7.2" text-anchor="end" fill="#000" >0.5</text>
<line x1="357.2" y1="26.25" x2="358.8" y2="26.25" stroke="#000" stroke-width="0.7" />
<line x1="580.7" y1="26.25" x2="579.2" y2="26.25" stroke="#000" stroke-width="0.7" />
<line x1="355" y1="13.75" x2="358.8" y2="13.75" stroke="#000" stroke-width="1.0" />
<line x1="580.7" y1="13.75" x2="577.7" y2="13.75" stroke="#000" stroke-width="0.9" />
<text x="352.4" y="16.35" font-size="7.2" text-anchor="end" fill="#000" >1.0</text>
<rect x="358.8" y="3.8" width="221.9" height="164.2" fill="none" stroke="#000" stroke-width="1.4"/>
<text x="469.9" y="193.9" font-size="8.72" text-anchor="middle" fill="#000" >Distance(nm)</text>
<text x="334.5" y="91.75" font-size="8.72" text-anchor="middle" fill="#000" transform="rotate(-90 334.5 91.75)" >Band Energy(eV)</text>
<text x="363" y="18.5" font-size="14.2" text-anchor="start" fill="#000" >b</text>
<text x="362.7" y="32" font-size="7.9" text-anchor="start" fill="#000" >Vds=1V, k=12</text>
<text x="367.5" y="98" font-size="7.9" text-anchor="start" fill="#000" >Solid:Vgs=2V</text>
<text x="367.5" y="107.8" font-size="7.9" text-anchor="start" fill="#000" >Dash:Vgs=0V</text>
<text x="372.2" y="120.6" font-size="7.0" ><tspan font-weight="normal">&#934;</tspan><tspan font-size="4.06" dy="2.52">M2</tspan><tspan dy="-2.52">=3.9eV</tspan></text>
<text x="372.2" y="132.2" font-size="7.0" ><tspan font-weight="normal">&#934;</tspan><tspan font-size="4.06" dy="2.52">BG</tspan><tspan dy="-2.52">=4.2eV</tspan></text>
<text x="372.2" y="143.9" font-size="7.0" ><tspan font-weight="normal">&#934;</tspan><tspan font-size="4.06" dy="2.52">PG</tspan><tspan dy="-2.52">=5.9eV</tspan></text>
<text x="387.8" y="159.3" font-size="8.0" text-anchor="middle" fill="#000" >Source</text>
<text x="430.3" y="159.3" font-size="8.0" text-anchor="middle" fill="#000" >Pocket</text>
<text x="463" y="159.8" font-size="8.0" text-anchor="middle" fill="#000" >TG</text>
<text x="499.7" y="161" font-size="8.0" text-anchor="middle" fill="#000" >AG</text>
<text x="549.5" y="160.6" font-size="8.0" text-anchor="middle" fill="#000" >Drain</text>
<line x1="359.8" y1="163.8" x2="412.3" y2="163.8" stroke="#000" stroke-width="1.3" />
<path d="M358.8,163.8 L363,162.1 L363,165.5 Z" fill="#000"/>
<path d="M413.3,163.8 L409.1,162.1 L409.1,165.5 Z" fill="#000"/>
<line x1="416" y1="163.8" x2="443.9" y2="163.8" stroke="#000" stroke-width="1.3" />
<path d="M415,163.8 L419.2,162.1 L419.2,165.5 Z" fill="#000"/>
<path d="M444.9,163.8 L440.7,162.1 L440.7,165.5 Z" fill="#000"/>
<line x1="448.1" y1="163.8" x2="479.7" y2="163.8" stroke="#000" stroke-width="1.3" />
<path d="M447.1,163.8 L451.3,162.1 L451.3,165.5 Z" fill="#000"/>
<path d="M480.7,163.8 L476.5,162.1 L476.5,165.5 Z" fill="#000"/>
<line x1="483.9" y1="163.8" x2="515.6" y2="163.8" stroke="#000" stroke-width="1.3" />
<path d="M482.9,163.8 L487.1,162.1 L487.1,165.5 Z" fill="#000"/>
<path d="M516.6,163.8 L512.4,162.1 L512.4,165.5 Z" fill="#000"/>
<line x1="520.1" y1="163.8" x2="579.6" y2="163.8" stroke="#000" stroke-width="1.3" />
<path d="M519.1,163.8 L523.3,162.1 L523.3,165.5 Z" fill="#000"/>
<path d="M580.6,163.8 L576.4,162.1 L576.4,165.5 Z" fill="#000"/>
<line x1="466.3" y1="15.6" x2="481.3" y2="15.6" stroke="#555555" stroke-width="1.3" opacity="0.75"/>
<text x="484.3" y="18.1" font-size="7.0" ><tspan font-weight="normal">&#934;</tspan><tspan font-size="4.06" dy="2.52">PG</tspan><tspan dy="-2.52">=5.2eV</tspan></text>
<line x1="466.3" y1="27.1" x2="481.3" y2="27.1" stroke="#ff3030" stroke-width="1.3" opacity="0.75"/>
<text x="484.3" y="29.6" font-size="7.0" ><tspan font-weight="normal">&#934;</tspan><tspan font-size="4.06" dy="2.52">M2</tspan><tspan dy="-2.52">=5.3eV</tspan></text>
<line x1="466.3" y1="38.6" x2="481.3" y2="38.6" stroke="#3030ff" stroke-width="1.3" opacity="0.75"/>
<text x="484.3" y="41.1" font-size="7.0" ><tspan font-weight="normal">&#934;</tspan><tspan font-size="4.06" dy="2.52">M2</tspan><tspan dy="-2.52">=5.4eV</tspan></text>
<line x1="466.3" y1="50.1" x2="481.3" y2="50.1" stroke="#ff40ff" stroke-width="1.3" opacity="0.75"/>
<text x="484.3" y="52.6" font-size="7.0" ><tspan font-weight="normal">&#934;</tspan><tspan font-size="4.06" dy="2.52">M2</tspan><tspan dy="-2.52">=5.5eV</tspan></text>
<line x1="525.4" y1="15.6" x2="540.4" y2="15.6" stroke="#2a9a2a" stroke-width="1.3" opacity="0.75"/>
<text x="543.4" y="18.1" font-size="7.0" ><tspan font-weight="normal">&#934;</tspan><tspan font-size="4.06" dy="2.52">M2</tspan><tspan dy="-2.52">=5.6eV</tspan></text>
<line x1="525.4" y1="27.1" x2="540.4" y2="27.1" stroke="#202090" stroke-width="1.3" opacity="0.75"/>
<text x="543.4" y="29.6" font-size="7.0" ><tspan font-weight="normal">&#934;</tspan><tspan font-size="4.06" dy="2.52">M2</tspan><tspan dy="-2.52">=5.7eV</tspan></text>
<line x1="525.4" y1="38.6" x2="540.4" y2="38.6" stroke="#9a40ff" stroke-width="1.3" opacity="0.75"/>
<text x="543.4" y="41.1" font-size="7.0" ><tspan font-weight="normal">&#934;</tspan><tspan font-size="4.06" dy="2.52">M2</tspan><tspan dy="-2.52">=5.8eV</tspan></text>
<line x1="525.4" y1="50.1" x2="540.4" y2="50.1" stroke="#8a208a" stroke-width="1.3" opacity="0.75"/>
<text x="543.4" y="52.6" font-size="7.0" ><tspan font-weight="normal">&#934;</tspan><tspan font-size="4.06" dy="2.52">M2</tspan><tspan dy="-2.52">=5.9eV</tspan></text>
<path d="M359,49 L361,47.7 L364,47 L370,46.7 L385,46.3 L400,46.4 L410,46.9 L414,47.7 L417.5,48.7 L421.5,31 L438.5,51.3 L440.2,43.8 L450,49.9 L460,56 L470,61.7 L480,67 L490,72.4 L500,78.1 L505,81.1 L515,87.1 L525,92.5 L540,99.5 L555,106 L570,111.5 L580.6,115.5" fill="none" stroke="#c8c0c0" stroke-width="0.7" stroke-linejoin="round" />
<path d="M359,48.5 L361,47.2 L364,46.5 L370,46.2 L385,45.8 L400,45.9 L410,46.4 L414,47.2 L417.5,48.2 L421.5,30.5 L438.5,50.8 L440.2,43.3 L450,49.4 L460,55.5 L470,61.2 L480,66.5 L490,71.9 L500,77.6 L505,80.6 L515,86.6 L525,92 L540,99 L555,105.5 L570,111 L580.6,115" fill="none" stroke="#f49090" stroke-width="0.8" stroke-linejoin="round" opacity="0.85"/>
<path d="M359,47.3 L361,46 L364,45.3 L370,45 L385,44.6 L400,44.7 L410,45.2 L414,46 L417.5,47 L421.5,29.3 L438.5,49.6 L440.2,42.1 L450,48.2 L460,54.3 L470,60 L480,65.3 L490,70.7 L500,76.4 L505,79.4 L515,85.4 L525,90.8 L540,97.8 L555,104.3 L570,109.8 L580.6,113.8" fill="none" stroke="#8a40d8" stroke-width="1.1" stroke-linejoin="round" />
<path d="M359,47.8 L361,46.5 L364,45.8 L370,45.5 L385,45.1 L400,45.2 L410,45.7 L414,46.5 L417.5,47.5 L421.5,29.8 L438.5,50.1 L440.2,42.6 L450,48.7 L460,54.8 L470,60.5 L480,65.8 L490,71.2 L500,76.9 L505,79.9 L515,85.9 L525,91.3 L540,98.3 L555,104.8 L570,110.3 L580.6,114.3" fill="none" stroke="#801888" stroke-width="0.9" stroke-linejoin="round" stroke-dasharray="1 1"/>
<path d="M359,66.5 L362,64.8 L370,63.8 L395,63.3 L410,64 L416,65.3 L420,66.2 L425,68.8 L437.9,85.9 L440.1,79.9 L460,91.6 L479.4,103.1 L495,112.1 L505,117 L520,124.5 L535,132 L550,139.5 L565,147 L580.6,153" fill="none" stroke="#c8c0c0" stroke-width="0.7" stroke-linejoin="round" />
<path d="M359,66 L362,64.3 L370,63.3 L395,62.8 L410,63.5 L416,64.8 L420,65.7 L425,68.3 L437.9,85.4 L440.1,79.4 L460,91.1 L479.4,102.6 L495,111.6 L505,116.5 L520,124 L535,131.5 L550,139 L565,146.5 L580.6,152.5" fill="none" stroke="#f49090" stroke-width="0.8" stroke-linejoin="round" opacity="0.85"/>
<path d="M359,64.8 L362,63.1 L370,62.1 L395,61.6 L410,62.3 L416,63.6 L420,64.5 L425,67.1 L437.9,84.2 L440.1,78.2 L460,89.9 L479.4,101.4 L495,110.4 L505,115.3 L520,122.8 L535,130.3 L550,137.8 L565,145.3 L580.6,151.3" fill="none" stroke="#8a40d8" stroke-width="1.1" stroke-linejoin="round" />
<path d="M359,65.3 L362,63.6 L370,62.6 L395,62.1 L410,62.8 L416,64.1 L420,65 L425,67.6 L437.9,84.7 L440.1,78.7 L460,90.4 L479.4,101.9 L495,110.9 L505,115.8 L520,123.3 L535,130.8 L550,138.3 L565,145.8 L580.6,151.8" fill="none" stroke="#801888" stroke-width="0.9" stroke-linejoin="round" stroke-dasharray="1 1"/>
<path d="M359,59.1 L390,59 L405,59.7 L412,61 L415,62.5 L417.3,63.7 L421.5,47.7 L436.5,84.7 L438.2,90.7 L440.1,86.2 L446,94.2" fill="none" stroke="#808080" stroke-width="1.1" stroke-linejoin="round" />
<path d="M446,94.2 C446.83,95.48 449.5,99.98 451,101.9 C452.5,103.82 453.5,104.4 455,105.7 C456.5,107 458.33,108.53 460,109.7 C461.67,110.87 463.33,111.9 465,112.7 C466.67,113.5 468.33,114.08 470,114.5 C471.67,114.92 474.17,115.08 475,115.2" fill="none" stroke="#808080" stroke-width="1.1" stroke-linejoin="round" stroke-linecap="round" />
<path d="M359,58.4 L390,58.3 L405,59 L412,60.3 L415,61.8 L417.3,63 L421.5,47 L436.5,84 L438.2,90 L440.1,85.5 L446,93.5" fill="none" stroke="#2a0068" stroke-width="1.3" stroke-linejoin="round" />
<path d="M446,93.5 C446.83,94.78 449.5,99.28 451,101.2 C452.5,103.12 453.5,103.7 455,105 C456.5,106.3 458.33,107.83 460,109 C461.67,110.17 463.33,111.2 465,112 C466.67,112.8 468.33,113.38 470,113.8 C471.67,114.22 474.17,114.38 475,114.5" fill="none" stroke="#2a0068" stroke-width="1.3" stroke-linejoin="round" stroke-linecap="round" />
<path d="M359,76.7 L390,76.2 L405,76.7 L413,78.6 L420,82.1 L422,83.7 L425,90.5 L430,103.4 L438,127.2 L440,121.7" fill="none" stroke="#808080" stroke-width="1.1" stroke-linejoin="round" />
<path d="M440,121.7 C441,123.53 443.83,129.53 446,132.7 C448.17,135.87 450.67,138.45 453,140.7 C455.33,142.95 457.92,144.9 460,146.2 C462.08,147.5 463.5,147.82 465.5,148.5 C467.5,149.18 470,149.85 472,150.3 C474,150.75 476.58,151.05 477.5,151.2" fill="none" stroke="#808080" stroke-width="1.1" stroke-linejoin="round" stroke-linecap="round" />
<path d="M359,76 L390,75.5 L405,76 L413,77.9 L420,81.4 L422,83 L425,89.8 L430,102.7 L438,126.5 L440,121" fill="none" stroke="#2a0068" stroke-width="1.3" stroke-linejoin="round" />
<path d="M440,121 C441,122.83 443.83,128.83 446,132 C448.17,135.17 450.67,137.75 453,140 C455.33,142.25 457.92,144.2 460,145.5 C462.08,146.8 463.5,147.12 465.5,147.8 C467.5,148.48 470,149.15 472,149.6 C474,150.05 476.58,150.35 477.5,150.5" fill="none" stroke="#2a0068" stroke-width="1.3" stroke-linejoin="round" stroke-linecap="round" />
<path d="M475,115 C477.5,115.12 485,115.55 490,115.7 C495,115.85 500,116 505,115.9 C510,115.8 515,115.25 520,115.1 C525,114.95 530,114.93 535,115 C540,115.07 545,115.37 550,115.5 C555,115.63 559.9,115.7 565,115.8 C570.1,115.9 578,116.05 580.6,116.1" fill="none" stroke="#9a9a9a" stroke-width="1.0" stroke-linejoin="round" stroke-linecap="round" />
<path d="M475,114.5 C477.5,114.62 485,115.05 490,115.2 C495,115.35 500,115.5 505,115.4 C510,115.3 515,114.75 520,114.6 C525,114.45 530,114.43 535,114.5 C540,114.57 545,114.87 550,115 C555,115.13 559.9,115.2 565,115.3 C570.1,115.4 578,115.55 580.6,115.6" fill="none" stroke="#584868" stroke-width="0.9" stroke-linejoin="round" stroke-linecap="round" />
<path d="M477.5,151 C479.58,151.07 485.42,151.3 490,151.4 C494.58,151.5 500,151.63 505,151.6 C510,151.57 515,151.25 520,151.2 C525,151.15 530,151.23 535,151.3 C540,151.37 545,151.52 550,151.6 C555,151.68 559.9,151.72 565,151.8 C570.1,151.88 578,152.05 580.6,152.1" fill="none" stroke="#9a9a9a" stroke-width="1.0" stroke-linejoin="round" stroke-linecap="round" />
<path d="M477.5,150.5 C479.58,150.57 485.42,150.8 490,150.9 C494.58,151 500,151.13 505,151.1 C510,151.07 515,150.75 520,150.7 C525,150.65 530,150.73 535,150.8 C540,150.87 545,151.02 550,151.1 C555,151.18 559.9,151.22 565,151.3 C570.1,151.38 578,151.55 580.6,151.6" fill="none" stroke="#584868" stroke-width="0.9" stroke-linejoin="round" stroke-linecap="round" />
<line x1="388.8" y1="88.5" x2="396" y2="72" stroke="#000" stroke-width="0.9"/>
<path d="M397.4,68.8 L397.6,74.6 L394.1,73.2 Z" fill="#000"/>
<line x1="56.5" y1="374.2" x2="56.5" y2="377.2" stroke="#000" stroke-width="0.8" />
<text x="56.5" y="385.3" font-size="7.1" text-anchor="middle" fill="#000" >5</text>
<line x1="73.64" y1="374.2" x2="73.64" y2="377.2" stroke="#000" stroke-width="0.8" />
<text x="73.64" y="385.3" font-size="7.1" text-anchor="middle" fill="#000" >10</text>
<line x1="90.78" y1="374.2" x2="90.78" y2="377.2" stroke="#000" stroke-width="0.8" />
<text x="90.78" y="385.3" font-size="7.1" text-anchor="middle" fill="#000" >15</text>
<line x1="107.92" y1="374.2" x2="107.92" y2="377.2" stroke="#000" stroke-width="0.8" />
<text x="107.92" y="385.3" font-size="7.1" text-anchor="middle" fill="#000" >20</text>
<line x1="125.06" y1="374.2" x2="125.06" y2="377.2" stroke="#000" stroke-width="0.8" />
<text x="125.06" y="385.3" font-size="7.1" text-anchor="middle" fill="#000" >25</text>
<line x1="142.2" y1="374.2" x2="142.2" y2="377.2" stroke="#000" stroke-width="0.8" />
<text x="142.2" y="385.3" font-size="7.1" text-anchor="middle" fill="#000" >30</text>
<line x1="159.34" y1="374.2" x2="159.34" y2="377.2" stroke="#000" stroke-width="0.8" />
<text x="159.34" y="385.3" font-size="7.1" text-anchor="middle" fill="#000" >35</text>
<line x1="176.48" y1="374.2" x2="176.48" y2="377.2" stroke="#000" stroke-width="0.8" />
<text x="176.48" y="385.3" font-size="7.1" text-anchor="middle" fill="#000" >40</text>
<line x1="193.62" y1="374.2" x2="193.62" y2="377.2" stroke="#000" stroke-width="0.8" />
<text x="193.62" y="385.3" font-size="7.1" text-anchor="middle" fill="#000" >45</text>
<line x1="210.76" y1="374.2" x2="210.76" y2="377.2" stroke="#000" stroke-width="0.8" />
<text x="210.76" y="385.3" font-size="7.1" text-anchor="middle" fill="#000" >50</text>
<line x1="227.9" y1="374.2" x2="227.9" y2="377.2" stroke="#000" stroke-width="0.8" />
<text x="227.9" y="385.3" font-size="7.1" text-anchor="middle" fill="#000" >55</text>
<line x1="245.04" y1="374.2" x2="245.04" y2="377.2" stroke="#000" stroke-width="0.8" />
<text x="245.04" y="385.3" font-size="7.1" text-anchor="middle" fill="#000" >60</text>
<line x1="262.18" y1="374.2" x2="262.18" y2="377.2" stroke="#000" stroke-width="0.8" />
<text x="262.18" y="385.3" font-size="7.1" text-anchor="middle" fill="#000" >65</text>
<line x1="47.93" y1="374.2" x2="47.93" y2="376.2" stroke="#000" stroke-width="0.7" />
<line x1="65.07" y1="374.2" x2="65.07" y2="376.2" stroke="#000" stroke-width="0.7" />
<line x1="82.21" y1="374.2" x2="82.21" y2="376.2" stroke="#000" stroke-width="0.7" />
<line x1="99.35" y1="374.2" x2="99.35" y2="376.2" stroke="#000" stroke-width="0.7" />
<line x1="116.49" y1="374.2" x2="116.49" y2="376.2" stroke="#000" stroke-width="0.7" />
<line x1="133.63" y1="374.2" x2="133.63" y2="376.2" stroke="#000" stroke-width="0.7" />
<line x1="150.77" y1="374.2" x2="150.77" y2="376.2" stroke="#000" stroke-width="0.7" />
<line x1="167.91" y1="374.2" x2="167.91" y2="376.2" stroke="#000" stroke-width="0.7" />
<line x1="185.05" y1="374.2" x2="185.05" y2="376.2" stroke="#000" stroke-width="0.7" />
<line x1="202.19" y1="374.2" x2="202.19" y2="376.2" stroke="#000" stroke-width="0.7" />
<line x1="219.33" y1="374.2" x2="219.33" y2="376.2" stroke="#000" stroke-width="0.7" />
<line x1="236.47" y1="374.2" x2="236.47" y2="376.2" stroke="#000" stroke-width="0.7" />
<line x1="253.61" y1="374.2" x2="253.61" y2="376.2" stroke="#000" stroke-width="0.7" />
<line x1="53.4" y1="210.4" x2="53.4" y2="212.9" stroke="#000" stroke-width="0.8" />
<line x1="71.13" y1="210.4" x2="71.13" y2="212.9" stroke="#000" stroke-width="0.8" />
<line x1="88.86" y1="210.4" x2="88.86" y2="212.9" stroke="#000" stroke-width="0.8" />
<line x1="106.59" y1="210.4" x2="106.59" y2="212.9" stroke="#000" stroke-width="0.8" />
<line x1="124.32" y1="210.4" x2="124.32" y2="212.9" stroke="#000" stroke-width="0.8" />
<line x1="142.05" y1="210.4" x2="142.05" y2="212.9" stroke="#000" stroke-width="0.8" />
<line x1="159.78" y1="210.4" x2="159.78" y2="212.9" stroke="#000" stroke-width="0.8" />
<line x1="177.51" y1="210.4" x2="177.51" y2="212.9" stroke="#000" stroke-width="0.8" />
<line x1="195.24" y1="210.4" x2="195.24" y2="212.9" stroke="#000" stroke-width="0.8" />
<line x1="212.97" y1="210.4" x2="212.97" y2="212.9" stroke="#000" stroke-width="0.8" />
<line x1="230.7" y1="210.4" x2="230.7" y2="212.9" stroke="#000" stroke-width="0.8" />
<line x1="248.43" y1="210.4" x2="248.43" y2="212.9" stroke="#000" stroke-width="0.8" />
<line x1="44.53" y1="210.4" x2="44.53" y2="211.9" stroke="#000" stroke-width="0.7" />
<line x1="62.27" y1="210.4" x2="62.27" y2="211.9" stroke="#000" stroke-width="0.7" />
<line x1="80" y1="210.4" x2="80" y2="211.9" stroke="#000" stroke-width="0.7" />
<line x1="97.72" y1="210.4" x2="97.72" y2="211.9" stroke="#000" stroke-width="0.7" />
<line x1="115.45" y1="210.4" x2="115.45" y2="211.9" stroke="#000" stroke-width="0.7" />
<line x1="133.19" y1="210.4" x2="133.19" y2="211.9" stroke="#000" stroke-width="0.7" />
<line x1="150.91" y1="210.4" x2="150.91" y2="211.9" stroke="#000" stroke-width="0.7" />
<line x1="168.65" y1="210.4" x2="168.65" y2="211.9" stroke="#000" stroke-width="0.7" />
<line x1="186.38" y1="210.4" x2="186.38" y2="211.9" stroke="#000" stroke-width="0.7" />
<line x1="204.11" y1="210.4" x2="204.11" y2="211.9" stroke="#000" stroke-width="0.7" />
<line x1="221.84" y1="210.4" x2="221.84" y2="211.9" stroke="#000" stroke-width="0.7" />
<line x1="239.56" y1="210.4" x2="239.56" y2="211.9" stroke="#000" stroke-width="0.7" />
<line x1="257.3" y1="210.4" x2="257.3" y2="211.9" stroke="#000" stroke-width="0.7" />
<line x1="40.3" y1="356.1" x2="43.1" y2="356.1" stroke="#000" stroke-width="0.8" />
<text x="37.8" y="358.7" font-size="7.2" text-anchor="end" fill="#000" >0.0</text>
<line x1="40.3" y1="333.32" x2="43.1" y2="333.32" stroke="#000" stroke-width="0.8" />
<text x="37.8" y="335.92" font-size="7.0" text-anchor="end">5.0x10<tspan font-size="4.41" dy="-3.64">5</tspan></text>
<line x1="40.3" y1="310.54" x2="43.1" y2="310.54" stroke="#000" stroke-width="0.8" />
<text x="37.8" y="313.14" font-size="7.0" text-anchor="end">1.0x10<tspan font-size="4.41" dy="-3.64">6</tspan></text>
<line x1="40.3" y1="287.76" x2="43.1" y2="287.76" stroke="#000" stroke-width="0.8" />
<text x="37.8" y="290.36" font-size="7.0" text-anchor="end">1.5x10<tspan font-size="4.41" dy="-3.64">6</tspan></text>
<line x1="40.3" y1="264.98" x2="43.1" y2="264.98" stroke="#000" stroke-width="0.8" />
<text x="37.8" y="267.58" font-size="7.0" text-anchor="end">2.0x10<tspan font-size="4.41" dy="-3.64">6</tspan></text>
<line x1="40.3" y1="242.2" x2="43.1" y2="242.2" stroke="#000" stroke-width="0.8" />
<text x="37.8" y="244.8" font-size="7.0" text-anchor="end">2.5x10<tspan font-size="4.41" dy="-3.64">6</tspan></text>
<line x1="40.3" y1="219.42" x2="43.1" y2="219.42" stroke="#000" stroke-width="0.8" />
<text x="37.8" y="222.02" font-size="7.0" text-anchor="end">3.0x10<tspan font-size="4.41" dy="-3.64">6</tspan></text>
<line x1="41.5" y1="367.49" x2="43.1" y2="367.49" stroke="#000" stroke-width="0.7" />
<line x1="41.5" y1="344.71" x2="43.1" y2="344.71" stroke="#000" stroke-width="0.7" />
<line x1="41.5" y1="321.93" x2="43.1" y2="321.93" stroke="#000" stroke-width="0.7" />
<line x1="41.5" y1="299.15" x2="43.1" y2="299.15" stroke="#000" stroke-width="0.7" />
<line x1="41.5" y1="276.37" x2="43.1" y2="276.37" stroke="#000" stroke-width="0.7" />
<line x1="41.5" y1="253.59" x2="43.1" y2="253.59" stroke="#000" stroke-width="0.7" />
<line x1="41.5" y1="230.81" x2="43.1" y2="230.81" stroke="#000" stroke-width="0.7" />
<line x1="265.2" y1="347.1" x2="268" y2="347.1" stroke="#000" stroke-width="0.8" />
<text x="268.9" y="349.7" font-size="7.2" text-anchor="start" fill="#000" >0.0</text>
<line x1="265.2" y1="312.9" x2="268" y2="312.9" stroke="#000" stroke-width="0.8" />
<text x="268.9" y="315.5" font-size="7.2" text-anchor="start" fill="#000" >0.5</text>
<line x1="265.2" y1="278.7" x2="268" y2="278.7" stroke="#000" stroke-width="0.8" />
<text x="268.9" y="281.3" font-size="7.2" text-anchor="start" fill="#000" >1.0</text>
<line x1="265.2" y1="244.5" x2="268" y2="244.5" stroke="#000" stroke-width="0.8" />
<text x="268.9" y="247.1" font-size="7.2" text-anchor="start" fill="#000" >1.5</text>
<line x1="265.2" y1="210.3" x2="268" y2="210.3" stroke="#000" stroke-width="0.8" />
<text x="268.9" y="212.9" font-size="7.2" text-anchor="start" fill="#000" >2.0</text>
<line x1="265.2" y1="364.2" x2="266.8" y2="364.2" stroke="#000" stroke-width="0.7" />
<line x1="265.2" y1="330" x2="266.8" y2="330" stroke="#000" stroke-width="0.7" />
<line x1="265.2" y1="295.8" x2="266.8" y2="295.8" stroke="#000" stroke-width="0.7" />
<line x1="265.2" y1="261.6" x2="266.8" y2="261.6" stroke="#000" stroke-width="0.7" />
<line x1="265.2" y1="227.4" x2="266.8" y2="227.4" stroke="#000" stroke-width="0.7" />
<line x1="43.1" y1="210.4" x2="265.2" y2="210.4" stroke="#000" stroke-width="1.4" />
<line x1="265.2" y1="210.4" x2="265.2" y2="374.2" stroke="#000" stroke-width="1.4" />
<line x1="43.1" y1="374.2" x2="265.2" y2="374.2" stroke="#000" stroke-width="1.4" />
<line x1="43.1" y1="209.8" x2="43.1" y2="374.8" stroke="#707070" stroke-width="1.3" />
<text x="154.3" y="400" font-size="8.72" text-anchor="middle" fill="#000" >Distance(nm)</text>
<text x="7.2" y="297.8" font-size="8.65" text-anchor="middle" fill="#000" transform="rotate(-90 7.2 297.8)" >Electric Field(V/cm)</text>
<text x="291.4" y="297.4" font-size="8.7" text-anchor="middle" fill="#000" transform="rotate(-90 291.4 297.4)" >Potential(V)</text>
<text x="45.3" y="223.2" font-size="10.3" text-anchor="start" fill="#000" >C</text>
<text x="45.7" y="232.6" font-size="7.17" text-anchor="start" fill="#000" >Vds=1.0V, Vgs=2.0V</text>
<text x="47" y="242" font-size="7.08" text-anchor="start" fill="#000" >Solid:Electric Field</text>
<text x="47" y="250.5" font-size="7.1" text-anchor="start" fill="#000" >Dash:Potential</text>
<text x="59.8" y="276.7" font-size="7.0" ><tspan font-weight="normal">&#934;</tspan><tspan font-size="4.06" dy="2.52">M1</tspan><tspan dy="-2.52">=4.2eV</tspan></text>
<text x="59.8" y="288.3" font-size="7.0" ><tspan font-weight="normal">&#934;</tspan><tspan font-size="4.06" dy="2.52">M2</tspan><tspan dy="-2.52">=3.9eV</tspan></text>
<text x="59.8" y="299.9" font-size="7.0" ><tspan font-weight="normal">&#934;</tspan><tspan font-size="4.06" dy="2.52">BG</tspan><tspan dy="-2.52">=4.2eV</tspan></text>
<line x1="173.5" y1="244.5" x2="189.5" y2="244.5" stroke="#555555" stroke-width="1.1" />
<text x="191.8" y="247" font-size="7.0" ><tspan font-weight="normal">&#934;</tspan><tspan font-size="4.06" dy="2.52">PG</tspan><tspan dy="-2.52">=5.2eV</tspan></text>
<line x1="173.5" y1="256.15" x2="189.5" y2="256.15" stroke="#ff3030" stroke-width="1.1" />
<text x="191.8" y="258.65" font-size="7.0" ><tspan font-weight="normal">&#934;</tspan><tspan font-size="4.06" dy="2.52">PG</tspan><tspan dy="-2.52">=5.3eV</tspan></text>
<line x1="173.5" y1="267.8" x2="189.5" y2="267.8" stroke="#3030ff" stroke-width="1.1" />
<text x="191.8" y="270.3" font-size="7.0" ><tspan font-weight="normal">&#934;</tspan><tspan font-size="4.06" dy="2.52">PG</tspan><tspan dy="-2.52">=5.4eV</tspan></text>
<line x1="173.5" y1="279.45" x2="189.5" y2="279.45" stroke="#ff40ff" stroke-width="1.1" />
<text x="191.8" y="281.95" font-size="7.0" ><tspan font-weight="normal">&#934;</tspan><tspan font-size="4.06" dy="2.52">PG</tspan><tspan dy="-2.52">=5.5eV</tspan></text>
<line x1="173.5" y1="291.1" x2="189.5" y2="291.1" stroke="#2a9a2a" stroke-width="1.1" />
<text x="191.8" y="293.6" font-size="7.0" ><tspan font-weight="normal">&#934;</tspan><tspan font-size="4.06" dy="2.52">PG</tspan><tspan dy="-2.52">=5.6eV</tspan></text>
<line x1="173.5" y1="302.75" x2="189.5" y2="302.75" stroke="#202090" stroke-width="1.1" />
<text x="191.8" y="305.25" font-size="7.0" ><tspan font-weight="normal">&#934;</tspan><tspan font-size="4.06" dy="2.52">PG</tspan><tspan dy="-2.52">=5.7eV</tspan></text>
<line x1="173.5" y1="314.4" x2="189.5" y2="314.4" stroke="#9a40ff" stroke-width="1.1" />
<text x="191.8" y="316.9" font-size="7.0" ><tspan font-weight="normal">&#934;</tspan><tspan font-size="4.06" dy="2.52">PG</tspan><tspan dy="-2.52">=5.8eV</tspan></text>
<line x1="173.5" y1="326.05" x2="189.5" y2="326.05" stroke="#8a208a" stroke-width="1.1" />
<text x="191.8" y="328.55" font-size="7.0" ><tspan font-weight="normal">&#934;</tspan><tspan font-size="4.06" dy="2.52">PG</tspan><tspan dy="-2.52">=5.9eV</tspan></text>
<path d="M43.6,356.5 L44.3,330 L46.3,266.5" fill="none" stroke="#d080d8" stroke-width="0.9" stroke-linejoin="round" />
<line x1="114.9" y1="279.5" x2="114.9" y2="234.8" stroke="#c890d8" stroke-width="1.0" />
<path d="M46.3,266.5 C46.38,268.08 46.6,272.42 46.8,276 C47,279.58 47.22,284.16 47.5,288 C47.78,291.84 48.08,295.56 48.5,299.02 C48.92,302.49 49.42,305.59 50,308.81 C50.58,312.04 51.17,315.5 52,318.36 C52.83,321.22 53.67,323.88 55,325.98 C56.33,328.07 58,329.73 60,330.93 C62,332.12 63.67,332.68 67,333.15 C70.33,333.62 75.5,333.75 80,333.75 C84.5,333.75 90.67,334.02 94,333.15 C97.33,332.27 98.33,330.84 100,328.5 C101.67,326.16 102.75,322.6 104,319.1 C105.25,315.6 106.33,312.18 107.5,307.5 C108.67,302.82 109.82,295.67 111,291 C112.18,286.33 114,281.42 114.6,279.5" fill="none" stroke="#000000" stroke-width="0.9" stroke-linejoin="round" stroke-linecap="round" />
<path d="M46.3,266.5 C46.38,268.08 46.6,272.42 46.8,276 C47,279.58 47.22,284.18 47.5,288 C47.78,291.82 48.08,295.51 48.5,298.95 C48.92,302.39 49.42,305.45 50,308.62 C50.58,311.8 51.17,315.22 52,318.02 C52.83,320.83 53.67,323.41 55,325.45 C56.33,327.49 58,329.09 60,330.25 C62,331.41 63.67,331.94 67,332.4 C70.33,332.86 75.5,333 80,333 C84.5,333 90.67,333.25 94,332.4 C97.33,331.55 98.33,330.17 100,327.9 C101.67,325.63 102.75,322.2 104,318.8 C105.25,315.4 106.33,312.13 107.5,307.5 C108.67,302.87 109.82,295.67 111,291 C112.18,286.33 114,281.42 114.6,279.5" fill="none" stroke="#ff0000" stroke-width="1.2" stroke-linejoin="round" stroke-linecap="round" />
<path d="M46.3,266.5 C46.38,268.08 46.6,272.42 46.8,276 C47,279.58 47.22,284.19 47.5,288 C47.78,291.81 48.08,295.47 48.5,298.88 C48.92,302.28 49.42,305.3 50,308.44 C50.58,311.57 51.17,314.94 52,317.69 C52.83,320.44 53.67,322.94 55,324.93 C56.33,326.91 58,328.45 60,329.57 C62,330.7 63.67,331.2 67,331.65 C70.33,332.1 75.5,332.25 80,332.25 C84.5,332.25 90.67,332.47 94,331.65 C97.33,330.82 98.33,329.49 100,327.3 C101.67,325.11 102.75,321.8 104,318.5 C105.25,315.2 106.33,312.08 107.5,307.5 C108.67,302.92 109.82,295.67 111,291 C112.18,286.33 114,281.42 114.6,279.5" fill="none" stroke="#0000ff" stroke-width="1.2" stroke-linejoin="round" stroke-linecap="round" />
<path d="M46.3,266.5 C46.38,268.08 46.6,272.42 46.8,276 C47,279.58 47.22,284.2 47.5,288 C47.78,291.8 48.08,295.43 48.5,298.8 C48.92,302.18 49.42,305.16 50,308.25 C50.58,311.34 51.17,314.66 52,317.35 C52.83,320.04 53.67,322.48 55,324.4 C56.33,326.33 58,327.82 60,328.9 C62,329.98 63.67,330.47 67,330.9 C70.33,331.33 75.5,331.5 80,331.5 C84.5,331.5 90.67,331.7 94,330.9 C97.33,330.1 98.33,328.82 100,326.7 C101.67,324.58 102.75,321.4 104,318.2 C105.25,315 106.33,312.03 107.5,307.5 C108.67,302.97 109.82,295.67 111,291 C112.18,286.33 114,281.42 114.6,279.5" fill="none" stroke="#ff00ff" stroke-width="1.2" stroke-linejoin="round" stroke-linecap="round" />
<path d="M46.3,266.5 C46.38,268.08 46.6,272.42 46.8,276 C47,279.58 47.22,284.21 47.5,288 C47.78,291.79 48.08,295.38 48.5,298.73 C48.92,302.07 49.42,305.01 50,308.06 C50.58,311.11 51.17,314.38 52,317.01 C52.83,319.65 53.67,322.01 55,323.88 C56.33,325.74 58,327.18 60,328.22 C62,329.27 63.67,329.73 67,330.15 C70.33,330.57 75.5,330.75 80,330.75 C84.5,330.75 90.67,330.92 94,330.15 C97.33,329.38 98.33,328.14 100,326.1 C101.67,324.06 102.75,321 104,317.9 C105.25,314.8 106.33,311.98 107.5,307.5 C108.67,303.02 109.82,295.67 111,291 C112.18,286.33 114,281.42 114.6,279.5" fill="none" stroke="#008000" stroke-width="1.2" stroke-linejoin="round" stroke-linecap="round" />
<path d="M46.3,266.5 C46.38,268.08 46.6,272.42 46.8,276 C47,279.58 47.22,284.23 47.5,288 C47.78,291.77 48.08,295.34 48.5,298.65 C48.92,301.96 49.42,304.87 50,307.88 C50.58,310.88 51.17,314.1 52,316.68 C52.83,319.25 53.67,321.54 55,323.35 C56.33,325.16 58,326.54 60,327.55 C62,328.56 63.67,328.99 67,329.4 C70.33,329.81 75.5,330 80,330 C84.5,330 90.67,330.15 94,329.4 C97.33,328.65 98.33,327.47 100,325.5 C101.67,323.53 102.75,320.6 104,317.6 C105.25,314.6 106.33,311.93 107.5,307.5 C108.67,303.07 109.82,295.67 111,291 C112.18,286.33 114,281.42 114.6,279.5" fill="none" stroke="#000080" stroke-width="1.2" stroke-linejoin="round" stroke-linecap="round" />
<path d="M46.3,266.5 C46.38,268.08 46.6,272.42 46.8,276 C47,279.58 47.22,284.24 47.5,288 C47.78,291.76 48.08,295.29 48.5,298.57 C48.92,301.86 49.42,304.73 50,307.69 C50.58,310.65 51.17,313.81 52,316.34 C52.83,318.86 53.67,321.07 55,322.82 C56.33,324.58 58,325.9 60,326.88 C62,327.85 63.67,328.25 67,328.65 C70.33,329.05 75.5,329.25 80,329.25 C84.5,329.25 90.67,329.38 94,328.65 C97.33,327.92 98.33,326.79 100,324.9 C101.67,323.01 102.75,320.2 104,317.3 C105.25,314.4 106.33,311.88 107.5,307.5 C108.67,303.12 109.82,295.67 111,291 C112.18,286.33 114,281.42 114.6,279.5" fill="none" stroke="#8000ff" stroke-width="1.2" stroke-linejoin="round" stroke-linecap="round" />
<path d="M46.3,266.5 C46.38,268.08 46.6,272.42 46.8,276 C47,279.58 47.22,284.25 47.5,288 C47.78,291.75 48.08,295.25 48.5,298.5 C48.92,301.75 49.42,304.58 50,307.5 C50.58,310.42 51.17,313.53 52,316 C52.83,318.47 53.67,320.6 55,322.3 C56.33,324 58,325.27 60,326.2 C62,327.13 63.67,327.52 67,327.9 C70.33,328.28 75.5,328.5 80,328.5 C84.5,328.5 90.67,328.6 94,327.9 C97.33,327.2 98.33,326.12 100,324.3 C101.67,322.48 102.75,319.8 104,317 C105.25,314.2 106.33,311.83 107.5,307.5 C108.67,303.17 109.82,295.67 111,291 C112.18,286.33 114,281.42 114.6,279.5" fill="none" stroke="#800080" stroke-width="1.2" stroke-linejoin="round" stroke-linecap="round" />
<path d="M114.9,234.8 L116.5,245 L118,262 L128.8,275" fill="none" stroke="#000000" stroke-width="1.3" stroke-linejoin="round" />
<path d="M114.9,234.8 L116.5,245 L118,262 L128.8,275" fill="none" stroke="#ff0000" stroke-width="1.3" stroke-linejoin="round" />
<path d="M114.9,234.8 L116.5,245 L118,262 L128.8,275" fill="none" stroke="#0000ff" stroke-width="1.3" stroke-linejoin="round" />
<path d="M114.9,234.8 L116.5,245 L118,262 L128.8,275" fill="none" stroke="#ff00ff" stroke-width="1.3" stroke-linejoin="round" />
<path d="M114.9,234.8 L116.5,245 L118,262 L128.8,275" fill="none" stroke="#008000" stroke-width="1.3" stroke-linejoin="round" />
<path d="M114.9,234.8 L116.5,245 L118,262 L128.8,275" fill="none" stroke="#000080" stroke-width="1.3" stroke-linejoin="round" />
<path d="M114.9,234.8 L116.5,245 L118,262 L128.8,275" fill="none" stroke="#8000ff" stroke-width="1.3" stroke-linejoin="round" />
<path d="M114.9,234.8 L116.5,245 L118,262 L128.8,275" fill="none" stroke="#800080" stroke-width="1.3" stroke-linejoin="round" />
<path d="M128.8,275 C129.5,277.92 131.13,286.85 133,292.5 C134.87,298.15 137.17,302.82 140,308.9 C142.83,314.98 147.03,323.62 150,329 C152.97,334.38 155.3,338.27 157.8,341.2 C160.3,344.13 162.77,345.3 165,346.6 C167.23,347.9 167.87,348.45 171.2,349 C174.53,349.55 180.92,349.7 185,349.9 C189.08,350.1 193.2,350.02 195.7,350.2 C198.2,350.38 198.7,350.53 200,351 C201.3,351.47 202.33,352.4 203.5,353 C204.67,353.6 204.58,354.23 207,354.6 C209.42,354.97 212.5,355.08 218,355.2 C223.5,355.32 232.17,355.32 240,355.3 C247.83,355.28 260.83,355.13 265,355.1" fill="none" stroke="#701870" stroke-width="1.2" stroke-linejoin="round" stroke-linecap="round" />
<path d="M128.8,275 C129.5,277.92 131.13,286.85 133,292.5 C134.87,298.15 137.17,302.82 140,308.9 C142.83,314.98 147.03,323.62 150,329 C152.97,334.38 155.3,338.27 157.8,341.2 C160.3,344.13 162.77,345.3 165,346.6 C167.23,347.9 167.87,348.45 171.2,349 C174.53,349.55 180.92,349.7 185,349.9 C189.08,350.1 193.2,350.02 195.7,350.2 C198.2,350.38 198.7,350.53 200,351 C201.3,351.47 202.33,352.4 203.5,353 C204.67,353.6 204.58,354.23 207,354.6 C209.42,354.97 212.5,355.08 218,355.2 C223.5,355.32 232.17,355.32 240,355.3 C247.83,355.28 260.83,355.13 265,355.1" fill="none" stroke="#a040a8" stroke-width="0.8" stroke-linejoin="round" stroke-linecap="round" />
<path d="M43.4,334.5 C43.67,335.5 44.4,338.92 45,340.5 C45.6,342.08 46.17,343.13 47,344 C47.83,344.87 48.67,345.33 50,345.7 C51.33,346.07 51.67,346.08 55,346.2 C58.33,346.32 64.17,346.38 70,346.4 C75.83,346.42 85,346.37 90,346.3 C95,346.23 97.58,346.15 100,346 C102.42,345.85 103.25,345.78 104.5,345.4 C105.75,345.02 106.63,344.52 107.5,343.7 C108.37,342.88 108.83,342.62 109.7,340.5 C110.57,338.38 111.7,334.28 112.7,331 C113.7,327.72 114.2,325.88 115.7,320.8 C117.2,315.72 119.52,308.05 121.7,300.5 C123.88,292.95 126.92,282 128.8,275.5 C130.68,269 131.63,265.5 133,261.5 C134.37,257.5 135,255 137,251.5 C139,248 142.5,243.42 145,240.5 C147.5,237.58 149.5,235.83 152,234 C154.5,232.17 157.33,230.58 160,229.5 C162.67,228.42 165.5,227.97 168,227.5 C170.5,227.03 169.67,226.95 175,226.7 C180.33,226.45 192.5,225.95 200,226 C207.5,226.05 213.33,226.92 220,227 C226.67,227.08 232.5,226.75 240,226.5 C247.5,226.25 260.83,225.67 265,225.5" fill="none" stroke="#7a2a50" stroke-width="1.2" stroke-linejoin="round" stroke-linecap="round" />
<path d="M43.4,334 C43.67,335 44.4,338.42 45,340 C45.6,341.58 46.17,342.63 47,343.5 C47.83,344.37 48.67,344.83 50,345.2 C51.33,345.57 51.67,345.58 55,345.7 C58.33,345.82 64.17,345.88 70,345.9 C75.83,345.92 85,345.87 90,345.8 C95,345.73 97.58,345.65 100,345.5 C102.42,345.35 103.25,345.28 104.5,344.9 C105.75,344.52 106.63,344.02 107.5,343.2 C108.37,342.38 108.83,342.12 109.7,340 C110.57,337.88 111.7,333.78 112.7,330.5 C113.7,327.22 114.2,325.38 115.7,320.3 C117.2,315.22 119.52,307.55 121.7,300 C123.88,292.45 126.92,281.5 128.8,275 C130.68,268.5 131.63,265 133,261 C134.37,257 135,254.5 137,251 C139,247.5 142.5,242.92 145,240 C147.5,237.08 149.5,235.33 152,233.5 C154.5,231.67 157.33,230.08 160,229 C162.67,227.92 165.5,227.47 168,227 C170.5,226.53 169.67,226.45 175,226.2 C180.33,225.95 192.5,225.45 200,225.5 C207.5,225.55 213.33,226.42 220,226.5 C226.67,226.58 232.5,226.25 240,226 C247.5,225.75 260.83,225.17 265,225" fill="none" stroke="#781890" stroke-width="1.3" stroke-linejoin="round" stroke-linecap="round" />
<line x1="88" y1="339.2" x2="94.6" y2="351" stroke="#000" stroke-width="0.8"/>
<path d="M95.8,353.5 L92.6,349.8 L95.4,348.5 Z" fill="#000"/>
<line x1="358.7" y1="374.2" x2="358.7" y2="377.2" stroke="#000" stroke-width="0.8" />
<line x1="358.7" y1="210.5" x2="358.7" y2="213" stroke="#000" stroke-width="0.8" />
<text x="358.7" y="386" font-size="7.2" text-anchor="middle" fill="#000" >5.1</text>
<line x1="371.06" y1="374.2" x2="371.06" y2="376.2" stroke="#000" stroke-width="0.7" />
<line x1="371.06" y1="210.5" x2="371.06" y2="212" stroke="#000" stroke-width="0.7" />
<line x1="383.42" y1="374.2" x2="383.42" y2="377.2" stroke="#000" stroke-width="0.8" />
<line x1="383.42" y1="210.5" x2="383.42" y2="213" stroke="#000" stroke-width="0.8" />
<text x="383.42" y="386" font-size="7.2" text-anchor="middle" fill="#000" >5.2</text>
<line x1="395.78" y1="374.2" x2="395.78" y2="376.2" stroke="#000" stroke-width="0.7" />
<line x1="395.78" y1="210.5" x2="395.78" y2="212" stroke="#000" stroke-width="0.7" />
<line x1="408.14" y1="374.2" x2="408.14" y2="377.2" stroke="#000" stroke-width="0.8" />
<line x1="408.14" y1="210.5" x2="408.14" y2="213" stroke="#000" stroke-width="0.8" />
<text x="408.14" y="386" font-size="7.2" text-anchor="middle" fill="#000" >5.3</text>
<line x1="420.5" y1="374.2" x2="420.5" y2="376.2" stroke="#000" stroke-width="0.7" />
<line x1="420.5" y1="210.5" x2="420.5" y2="212" stroke="#000" stroke-width="0.7" />
<line x1="432.86" y1="374.2" x2="432.86" y2="377.2" stroke="#000" stroke-width="0.8" />
<line x1="432.86" y1="210.5" x2="432.86" y2="213" stroke="#000" stroke-width="0.8" />
<text x="432.86" y="386" font-size="7.2" text-anchor="middle" fill="#000" >5.4</text>
<line x1="445.22" y1="374.2" x2="445.22" y2="376.2" stroke="#000" stroke-width="0.7" />
<line x1="445.22" y1="210.5" x2="445.22" y2="212" stroke="#000" stroke-width="0.7" />
<line x1="457.58" y1="374.2" x2="457.58" y2="377.2" stroke="#000" stroke-width="0.8" />
<line x1="457.58" y1="210.5" x2="457.58" y2="213" stroke="#000" stroke-width="0.8" />
<text x="457.58" y="386" font-size="7.2" text-anchor="middle" fill="#000" >5.5</text>
<line x1="469.94" y1="374.2" x2="469.94" y2="376.2" stroke="#000" stroke-width="0.7" />
<line x1="469.94" y1="210.5" x2="469.94" y2="212" stroke="#000" stroke-width="0.7" />
<line x1="482.3" y1="374.2" x2="482.3" y2="377.2" stroke="#000" stroke-width="0.8" />
<line x1="482.3" y1="210.5" x2="482.3" y2="213" stroke="#000" stroke-width="0.8" />
<text x="482.3" y="386" font-size="7.2" text-anchor="middle" fill="#000" >5.6</text>
<line x1="494.66" y1="374.2" x2="494.66" y2="376.2" stroke="#000" stroke-width="0.7" />
<line x1="494.66" y1="210.5" x2="494.66" y2="212" stroke="#000" stroke-width="0.7" />
<line x1="507.02" y1="374.2" x2="507.02" y2="377.2" stroke="#000" stroke-width="0.8" />
<line x1="507.02" y1="210.5" x2="507.02" y2="213" stroke="#000" stroke-width="0.8" />
<text x="507.02" y="386" font-size="7.2" text-anchor="middle" fill="#000" >5.7</text>
<line x1="519.38" y1="374.2" x2="519.38" y2="376.2" stroke="#000" stroke-width="0.7" />
<line x1="519.38" y1="210.5" x2="519.38" y2="212" stroke="#000" stroke-width="0.7" />
<line x1="531.74" y1="374.2" x2="531.74" y2="377.2" stroke="#000" stroke-width="0.8" />
<line x1="531.74" y1="210.5" x2="531.74" y2="213" stroke="#000" stroke-width="0.8" />
<text x="531.74" y="386" font-size="7.2" text-anchor="middle" fill="#000" >5.8</text>
<line x1="544.1" y1="374.2" x2="544.1" y2="376.2" stroke="#000" stroke-width="0.7" />
<line x1="544.1" y1="210.5" x2="544.1" y2="212" stroke="#000" stroke-width="0.7" />
<line x1="556.46" y1="374.2" x2="556.46" y2="377.2" stroke="#000" stroke-width="0.8" />
<line x1="556.46" y1="210.5" x2="556.46" y2="213" stroke="#000" stroke-width="0.8" />
<text x="556.46" y="386" font-size="7.2" text-anchor="middle" fill="#000" >5.9</text>
<line x1="568.82" y1="374.2" x2="568.82" y2="376.2" stroke="#000" stroke-width="0.7" />
<line x1="568.82" y1="210.5" x2="568.82" y2="212" stroke="#000" stroke-width="0.7" />
<line x1="581.18" y1="374.2" x2="581.18" y2="377.2" stroke="#000" stroke-width="0.8" />
<line x1="581.18" y1="210.5" x2="581.18" y2="213" stroke="#000" stroke-width="0.8" />
<text x="581.18" y="386" font-size="7.2" text-anchor="middle" fill="#000" >6.0</text>
<line x1="355.7" y1="363.8" x2="358.5" y2="363.8" stroke="#000" stroke-width="0.8" />
<text x="352.8" y="366.4" font-size="7.2" text-anchor="end" fill="#000" >0.0</text>
<line x1="355.7" y1="312.5" x2="358.5" y2="312.5" stroke="#000" stroke-width="0.8" />
<text x="352.8" y="315.1" font-size="7.0" text-anchor="end">5.0x10<tspan font-size="4.41" dy="-3.64">9</tspan></text>
<line x1="355.7" y1="261.2" x2="358.5" y2="261.2" stroke="#000" stroke-width="0.8" />
<text x="352.8" y="263.8" font-size="7.0" text-anchor="end">1.0x10<tspan font-size="4.41" dy="-3.64">10</tspan></text>
<line x1="355.7" y1="209.9" x2="358.5" y2="209.9" stroke="#000" stroke-width="0.8" />
<text x="352.8" y="212.5" font-size="7.0" text-anchor="end">1.5x10<tspan font-size="4.41" dy="-3.64">10</tspan></text>
<line x1="356.9" y1="338.15" x2="358.5" y2="338.15" stroke="#000" stroke-width="0.7" />
<line x1="356.9" y1="286.85" x2="358.5" y2="286.85" stroke="#000" stroke-width="0.7" />
<line x1="356.9" y1="235.55" x2="358.5" y2="235.55" stroke="#000" stroke-width="0.7" />
<line x1="580.7" y1="374.3" x2="583.5" y2="374.3" stroke="#2020ff" stroke-width="0.9" />
<text x="583.9" y="376.9" font-size="7.2" text-anchor="start" fill="#000" >0</text>
<line x1="580.7" y1="319.7" x2="583.5" y2="319.7" stroke="#2020ff" stroke-width="0.9" />
<text x="583.9" y="322.3" font-size="7.2" text-anchor="start" fill="#000" >1</text>
<line x1="580.7" y1="265.1" x2="583.5" y2="265.1" stroke="#2020ff" stroke-width="0.9" />
<text x="583.9" y="267.7" font-size="7.2" text-anchor="start" fill="#000" >2</text>
<line x1="580.7" y1="210.5" x2="583.5" y2="210.5" stroke="#2020ff" stroke-width="0.9" />
<text x="583.9" y="213.1" font-size="7.2" text-anchor="start" fill="#000" >3</text>
<line x1="580.7" y1="347" x2="582.3" y2="347" stroke="#2020ff" stroke-width="0.8" />
<line x1="580.7" y1="292.4" x2="582.3" y2="292.4" stroke="#2020ff" stroke-width="0.8" />
<line x1="580.7" y1="237.8" x2="582.3" y2="237.8" stroke="#2020ff" stroke-width="0.8" />
<line x1="358.5" y1="210.5" x2="580.7" y2="210.5" stroke="#000" stroke-width="1.4" />
<line x1="358.5" y1="374.2" x2="580.7" y2="374.2" stroke="#000" stroke-width="1.4" />
<line x1="358.5" y1="209.8" x2="358.5" y2="374.9" stroke="#000" stroke-width="1.4" />
<line x1="580.7" y1="209.9" x2="580.7" y2="374.8" stroke="#3030ff" stroke-width="1.3" />
<text x="469.5" y="401.0" font-size="8.75" text-anchor="middle">Polar gate work function(&#934;<tspan font-size="5.2" dy="2.4">PG</tspan><tspan dy="-2.4">/eV)</tspan></text>
<text x="320.6" y="298.2" font-size="8.7" text-anchor="middle" fill="#000" transform="rotate(-90 320.6 298.2)" >Ion/Ioff</text>
<text x="600.4" y="297.2" font-size="8.7" text-anchor="middle" fill="#000" transform="rotate(-90 600.4 297.2)" >Sensitivity</text>
<text x="362.4" y="224.8" font-size="14.0" text-anchor="start" fill="#000" >d</text>
<text x="384.2" y="227.5" font-size="8.0" text-anchor="start" fill="#000" >Vds=1V, Vgs=2V</text>
<text x="384.2" y="238.6" font-size="8.0" text-anchor="start" fill="#000" >k=12, &#961;=1e10</text>
<text x="384.2" y="249.5" font-size="8.0" ><tspan font-weight="normal">&#934;</tspan><tspan font-size="4.64" dy="2.88">M1</tspan><tspan dy="-2.88">=4.2eV</tspan></text>
<text x="384.2" y="262" font-size="8.0" ><tspan font-weight="normal">&#934;</tspan><tspan font-size="4.64" dy="2.88">M2</tspan><tspan dy="-2.88">=3.9eV</tspan></text>
<text x="384.2" y="274.5" font-size="8.0" ><tspan font-weight="normal">&#934;</tspan><tspan font-size="4.64" dy="2.88">SG</tspan><tspan dy="-2.88">=4.2eV</tspan></text>
<path d="M383.42,348.9 L408.14,329.1 L432.86,308.5 L457.58,289.2 L482.3,271.6 L507.02,254.8 L531.74,238.9 L556.46,223.1" fill="none" stroke="#ff1010" stroke-width="1.0" stroke-linejoin="round" />
<path d="M383.42,286.75 L408.14,284.5 L432.86,283 L457.58,282.2 L482.3,281.7 L507.02,281.2 L531.74,281.2 L556.46,281.2" fill="none" stroke="#1010ff" stroke-width="1.0" stroke-linejoin="round" />
<circle cx="383.42" cy="348.9" r="2.1" fill="#ff1010"/>
<circle cx="408.14" cy="329.1" r="2.1" fill="#ff1010"/>
<circle cx="432.86" cy="308.5" r="2.1" fill="#ff1010"/>
<circle cx="457.58" cy="289.2" r="2.1" fill="#ff1010"/>
<circle cx="482.3" cy="271.6" r="2.1" fill="#ff1010"/>
<circle cx="507.02" cy="254.8" r="2.1" fill="#ff1010"/>
<circle cx="531.74" cy="238.9" r="2.1" fill="#ff1010"/>
<circle cx="556.46" cy="223.1" r="2.1" fill="#ff1010"/>
<circle cx="383.42" cy="286.75" r="2.1" fill="#1010ff"/>
<circle cx="408.14" cy="284.5" r="2.1" fill="#1010ff"/>
<circle cx="432.86" cy="283" r="2.1" fill="#1010ff"/>
<circle cx="457.58" cy="282.2" r="2.1" fill="#1010ff"/>
<circle cx="482.3" cy="281.7" r="2.1" fill="#1010ff"/>
<circle cx="507.02" cy="281.2" r="2.1" fill="#1010ff"/>
<circle cx="531.74" cy="281.2" r="2.1" fill="#1010ff"/>
<circle cx="556.46" cy="281.2" r="2.1" fill="#1010ff"/>
<line x1="469.3" y1="319.3" x2="488.6" y2="319.3" stroke="#ff1010" stroke-width="1.0" />
<circle cx="479" cy="319.3" r="2.1" fill="#ff1010"/>
<line x1="469.3" y1="330.9" x2="488.6" y2="330.9" stroke="#1010ff" stroke-width="1.0" />
<circle cx="479" cy="330.9" r="2.1" fill="#1010ff"/>
<text x="491.7" y="322.6" font-size="8.75" text-anchor="start" fill="#000" >Switch ratio</text>
<text x="491.7" y="334.2" font-size="8.75" text-anchor="start" fill="#000" >Sensitivity</text>
</svg>
</body></html>
